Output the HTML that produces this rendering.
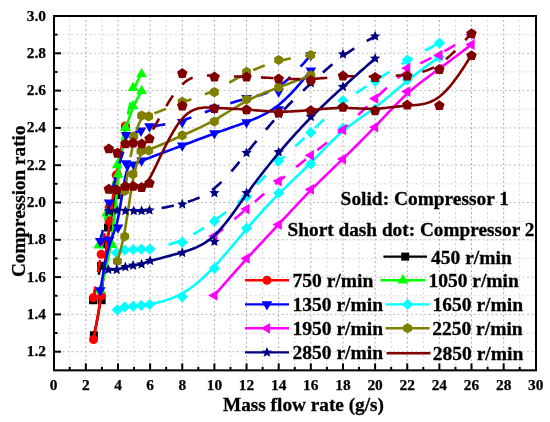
<!DOCTYPE html>
<html><head><meta charset="utf-8"><title>Compression ratio vs mass flow rate</title>
<style>html,body{margin:0;padding:0;background:#fff}svg{display:block}</style></head>
<body><svg width="550" height="422" viewBox="0 0 550 422">
<rect width="550" height="422" fill="#fff"/>
<g><line x1="69.77" y1="15.6" x2="69.77" y2="369.35" stroke="#d4d4d4" stroke-width="1" stroke-dasharray="2 2.465"/><line x1="85.84" y1="15.6" x2="85.84" y2="369.35" stroke="#a8a8a8" stroke-width="1" stroke-dasharray="2 2.465"/><line x1="101.91" y1="15.6" x2="101.91" y2="369.35" stroke="#d4d4d4" stroke-width="1" stroke-dasharray="2 2.465"/><line x1="117.98" y1="15.6" x2="117.98" y2="369.35" stroke="#a8a8a8" stroke-width="1" stroke-dasharray="2 2.465"/><line x1="134.05" y1="15.6" x2="134.05" y2="369.35" stroke="#d4d4d4" stroke-width="1" stroke-dasharray="2 2.465"/><line x1="150.12" y1="15.6" x2="150.12" y2="369.35" stroke="#a8a8a8" stroke-width="1" stroke-dasharray="2 2.465"/><line x1="166.19" y1="15.6" x2="166.19" y2="369.35" stroke="#d4d4d4" stroke-width="1" stroke-dasharray="2 2.465"/><line x1="182.26" y1="15.6" x2="182.26" y2="369.35" stroke="#a8a8a8" stroke-width="1" stroke-dasharray="2 2.465"/><line x1="198.33" y1="15.6" x2="198.33" y2="369.35" stroke="#d4d4d4" stroke-width="1" stroke-dasharray="2 2.465"/><line x1="214.40" y1="15.6" x2="214.40" y2="369.35" stroke="#a8a8a8" stroke-width="1" stroke-dasharray="2 2.465"/><line x1="230.47" y1="15.6" x2="230.47" y2="369.35" stroke="#d4d4d4" stroke-width="1" stroke-dasharray="2 2.465"/><line x1="246.54" y1="15.6" x2="246.54" y2="369.35" stroke="#a8a8a8" stroke-width="1" stroke-dasharray="2 2.465"/><line x1="262.61" y1="15.6" x2="262.61" y2="369.35" stroke="#d4d4d4" stroke-width="1" stroke-dasharray="2 2.465"/><line x1="278.68" y1="15.6" x2="278.68" y2="369.35" stroke="#a8a8a8" stroke-width="1" stroke-dasharray="2 2.465"/><line x1="294.75" y1="15.6" x2="294.75" y2="369.35" stroke="#d4d4d4" stroke-width="1" stroke-dasharray="2 2.465"/><line x1="310.82" y1="15.6" x2="310.82" y2="369.35" stroke="#a8a8a8" stroke-width="1" stroke-dasharray="2 2.465"/><line x1="326.89" y1="15.6" x2="326.89" y2="369.35" stroke="#d4d4d4" stroke-width="1" stroke-dasharray="2 2.465"/><line x1="342.96" y1="15.6" x2="342.96" y2="369.35" stroke="#a8a8a8" stroke-width="1" stroke-dasharray="2 2.465"/><line x1="359.03" y1="15.6" x2="359.03" y2="369.35" stroke="#d4d4d4" stroke-width="1" stroke-dasharray="2 2.465"/><line x1="375.10" y1="15.6" x2="375.10" y2="369.35" stroke="#a8a8a8" stroke-width="1" stroke-dasharray="2 2.465"/><line x1="391.17" y1="15.6" x2="391.17" y2="369.35" stroke="#d4d4d4" stroke-width="1" stroke-dasharray="2 2.465"/><line x1="407.24" y1="15.6" x2="407.24" y2="369.35" stroke="#a8a8a8" stroke-width="1" stroke-dasharray="2 2.465"/><line x1="423.31" y1="15.6" x2="423.31" y2="369.35" stroke="#d4d4d4" stroke-width="1" stroke-dasharray="2 2.465"/><line x1="439.38" y1="15.6" x2="439.38" y2="369.35" stroke="#a8a8a8" stroke-width="1" stroke-dasharray="2 2.465"/><line x1="455.45" y1="15.6" x2="455.45" y2="369.35" stroke="#d4d4d4" stroke-width="1" stroke-dasharray="2 2.465"/><line x1="471.52" y1="15.6" x2="471.52" y2="369.35" stroke="#a8a8a8" stroke-width="1" stroke-dasharray="2 2.465"/><line x1="487.59" y1="15.6" x2="487.59" y2="369.35" stroke="#d4d4d4" stroke-width="1" stroke-dasharray="2 2.465"/><line x1="503.66" y1="15.6" x2="503.66" y2="369.35" stroke="#a8a8a8" stroke-width="1" stroke-dasharray="2 2.465"/><line x1="519.73" y1="15.6" x2="519.73" y2="369.35" stroke="#d4d4d4" stroke-width="1" stroke-dasharray="2 2.465"/><line x1="53.7" y1="351.70" x2="535.0" y2="351.70" stroke="#bcbcbc" stroke-width="1" stroke-dasharray="2 2.465"/><line x1="53.7" y1="333.05" x2="535.0" y2="333.05" stroke="#d8d8d8" stroke-width="1" stroke-dasharray="2 2.465"/><line x1="53.7" y1="314.40" x2="535.0" y2="314.40" stroke="#bcbcbc" stroke-width="1" stroke-dasharray="2 2.465"/><line x1="53.7" y1="295.75" x2="535.0" y2="295.75" stroke="#d8d8d8" stroke-width="1" stroke-dasharray="2 2.465"/><line x1="53.7" y1="277.10" x2="535.0" y2="277.10" stroke="#bcbcbc" stroke-width="1" stroke-dasharray="2 2.465"/><line x1="53.7" y1="258.45" x2="535.0" y2="258.45" stroke="#d8d8d8" stroke-width="1" stroke-dasharray="2 2.465"/><line x1="53.7" y1="239.80" x2="535.0" y2="239.80" stroke="#bcbcbc" stroke-width="1" stroke-dasharray="2 2.465"/><line x1="53.7" y1="221.15" x2="535.0" y2="221.15" stroke="#d8d8d8" stroke-width="1" stroke-dasharray="2 2.465"/><line x1="53.7" y1="202.50" x2="535.0" y2="202.50" stroke="#bcbcbc" stroke-width="1" stroke-dasharray="2 2.465"/><line x1="53.7" y1="183.85" x2="535.0" y2="183.85" stroke="#d8d8d8" stroke-width="1" stroke-dasharray="2 2.465"/><line x1="53.7" y1="165.20" x2="535.0" y2="165.20" stroke="#bcbcbc" stroke-width="1" stroke-dasharray="2 2.465"/><line x1="53.7" y1="146.55" x2="535.0" y2="146.55" stroke="#d8d8d8" stroke-width="1" stroke-dasharray="2 2.465"/><line x1="53.7" y1="127.90" x2="535.0" y2="127.90" stroke="#bcbcbc" stroke-width="1" stroke-dasharray="2 2.465"/><line x1="53.7" y1="109.25" x2="535.0" y2="109.25" stroke="#d8d8d8" stroke-width="1" stroke-dasharray="2 2.465"/><line x1="53.7" y1="90.60" x2="535.0" y2="90.60" stroke="#bcbcbc" stroke-width="1" stroke-dasharray="2 2.465"/><line x1="53.7" y1="71.95" x2="535.0" y2="71.95" stroke="#d8d8d8" stroke-width="1" stroke-dasharray="2 2.465"/><line x1="53.7" y1="53.30" x2="535.0" y2="53.30" stroke="#bcbcbc" stroke-width="1" stroke-dasharray="2 2.465"/><line x1="53.7" y1="34.65" x2="535.0" y2="34.65" stroke="#d8d8d8" stroke-width="1" stroke-dasharray="2 2.465"/></g>
<g><path d="M93.87,335.29 L93.88,335.29 L93.88,335.28 L93.88,335.25 L93.90,335.20 L93.91,335.11 L93.94,334.98 L93.98,334.80 L94.04,334.56 L94.10,334.25 L94.19,333.86 L94.29,333.39 L94.42,332.82 L94.56,332.15 L94.74,331.37 L94.93,330.47 L95.16,329.44 L95.42,328.28 L95.70,326.98 L96.01,325.54 L96.34,323.96 L96.70,322.24 L97.07,320.38 L97.46,318.38 L97.87,316.24 L98.28,313.96 L98.71,311.53 L99.15,308.96 L99.59,306.25 L100.04,303.39 L100.48,300.39 L100.93,297.24 L101.37,293.95 L101.81,290.51 L102.25,286.94 L102.68,283.26 L103.11,279.50 L103.54,275.66 L103.96,271.77 L104.39,267.85 L104.82,263.91 L105.24,259.98 L105.67,256.07 L106.11,252.21 L106.54,248.41 L106.98,244.69 L107.43,241.07 L107.88,237.57 L108.34,234.20 L108.80,231.00 L109.27,227.94 L109.75,225.04 L110.22,222.30 L110.69,219.70 L111.16,217.25 L111.61,214.94 L112.06,212.78 L112.50,210.76 L112.92,208.88 L113.32,207.14 L113.70,205.54 L114.06,204.07 L114.40,202.73 L114.70,201.53 L114.98,200.45 L115.23,199.50 L115.44,198.66 L115.63,197.94 L115.79,197.32 L115.92,196.80 L116.03,196.36 L116.13,196.00 L116.20,195.72 L116.26,195.49 L116.30,195.33 L116.33,195.21 L116.35,195.12 L116.36,195.08 L116.37,195.05 L116.37,195.04 L116.37,195.04" fill="none" stroke="#000000" stroke-width="2.6" stroke-linejoin="round"/><rect x="89.88" y="331.29" width="8.00" height="8.00" fill="#000000" stroke="none"/><rect x="97.59" y="296.23" width="8.00" height="8.00" fill="#000000" stroke="none"/><rect x="104.02" y="223.49" width="8.00" height="8.00" fill="#000000" stroke="none"/><rect x="112.37" y="191.04" width="8.00" height="8.00" fill="#000000" stroke="none"/><path d="M93.07,300.23 L93.07,300.22 L93.07,300.21 L93.08,300.19 L93.09,300.14 L93.11,300.05 L93.14,299.92 L93.18,299.75 L93.24,299.51 L93.31,299.21 L93.40,298.83 L93.51,298.37 L93.64,297.81 L93.79,297.16 L93.97,296.39 L94.17,295.51 L94.41,294.51 L94.68,293.37 L94.97,292.10 L95.30,290.70 L95.65,289.18 L96.02,287.54 L96.41,285.79 L96.83,283.92 L97.26,281.94 L97.70,279.86 L98.16,277.67 L98.64,275.39 L99.12,273.01 L99.61,270.54 L100.10,267.98 L100.60,265.34 L101.11,262.62 L101.61,259.82 L102.11,256.95 L102.61,254.04 L103.11,251.10 L103.61,248.13 L104.11,245.15 L104.61,242.18 L105.11,239.23 L105.60,236.32 L106.10,233.45 L106.59,230.65 L107.08,227.92 L107.56,225.28 L108.05,222.74 L108.53,220.33 L109.01,218.04 L109.48,215.90 L109.95,213.90 L110.42,212.03 L110.87,210.30 L111.32,208.69 L111.76,207.20 L112.18,205.82 L112.59,204.56 L112.98,203.40 L113.36,202.35 L113.72,201.38 L114.05,200.51 L114.37,199.73 L114.66,199.02 L114.93,198.40 L115.17,197.84 L115.38,197.35 L115.57,196.91 L115.73,196.54 L115.86,196.22 L115.98,195.95 L116.08,195.72 L116.16,195.54 L116.22,195.39 L116.27,195.27 L116.31,195.19 L116.34,195.13 L116.35,195.08 L116.37,195.06 L116.37,195.05 L116.37,195.04 L116.37,195.04" fill="none" stroke="#000000" stroke-width="2.6" stroke-linejoin="round" stroke-dasharray="12.5 14.5" stroke-dashoffset="1.0"/><rect x="89.07" y="296.23" width="8.00" height="8.00" fill="#000000" stroke="none"/><rect x="97.11" y="261.91" width="8.00" height="8.00" fill="#000000" stroke="none"/><rect x="105.14" y="207.83" width="8.00" height="8.00" fill="#000000" stroke="none"/><rect x="112.37" y="191.04" width="8.00" height="8.00" fill="#000000" stroke="none"/><path d="M93.55,339.58 L93.55,339.58 L93.56,339.56 L93.56,339.53 L93.57,339.46 L93.59,339.35 L93.62,339.19 L93.67,338.97 L93.72,338.66 L93.79,338.28 L93.88,337.79 L93.99,337.20 L94.12,336.50 L94.27,335.66 L94.45,334.68 L94.66,333.56 L94.89,332.27 L95.16,330.82 L95.45,329.20 L95.78,327.41 L96.13,325.46 L96.50,323.35 L96.89,321.09 L97.30,318.67 L97.73,316.11 L98.17,313.40 L98.63,310.55 L99.09,307.56 L99.57,304.43 L100.05,301.17 L100.53,297.78 L101.02,294.26 L101.51,290.62 L101.99,286.86 L102.48,283.00 L102.96,279.04 L103.44,275.01 L103.92,270.92 L104.40,266.78 L104.87,262.60 L105.34,258.41 L105.82,254.21 L106.29,250.02 L106.75,245.86 L107.22,241.74 L107.68,237.67 L108.14,233.67 L108.60,229.76 L109.06,225.94 L109.52,222.23 L109.97,218.62 L110.43,215.11 L110.88,211.69 L111.34,208.35 L111.79,205.08 L112.25,201.88 L112.71,198.74 L113.17,195.64 L113.64,192.59 L114.11,189.57 L114.59,186.58 L115.07,183.60 L115.56,180.64 L116.06,177.68 L116.56,174.71 L117.07,171.73 L117.59,168.76 L118.11,165.79 L118.63,162.85 L119.14,159.95 L119.65,157.10 L120.15,154.32 L120.64,151.61 L121.12,148.99 L121.58,146.47 L122.02,144.07 L122.44,141.80 L122.84,139.66 L123.21,137.69 L123.54,135.87 L123.85,134.24 L124.11,132.80 L124.35,131.53 L124.55,130.44 L124.73,129.50 L124.88,128.70 L125.00,128.04 L125.10,127.50 L125.18,127.06 L125.24,126.72 L125.29,126.47 L125.33,126.29 L125.35,126.16 L125.36,126.09 L125.37,126.05 L125.37,126.04 L125.37,126.03" fill="none" stroke="#ff0000" stroke-width="2.6" stroke-linejoin="round"/><circle cx="93.55" cy="339.58" r="4.50" fill="#ff0000" stroke="none"/><circle cx="101.59" cy="295.75" r="4.50" fill="#ff0000" stroke="none"/><circle cx="109.14" cy="221.15" r="4.50" fill="#ff0000" stroke="none"/><circle cx="116.21" cy="175.27" r="4.50" fill="#ff0000" stroke="none"/><circle cx="125.37" cy="126.03" r="4.50" fill="#ff0000" stroke="none"/><path d="M93.23,297.80 L93.23,297.80 L93.23,297.79 L93.24,297.75 L93.25,297.69 L93.27,297.58 L93.30,297.42 L93.34,297.20 L93.40,296.90 L93.47,296.51 L93.55,296.03 L93.66,295.45 L93.79,294.75 L93.94,293.92 L94.11,292.95 L94.31,291.83 L94.54,290.56 L94.81,289.12 L95.10,287.52 L95.41,285.77 L95.75,283.87 L96.12,281.85 L96.51,279.71 L96.91,277.45 L97.34,275.10 L97.78,272.65 L98.23,270.12 L98.69,267.51 L99.17,264.85 L99.65,262.13 L100.14,259.37 L100.64,256.57 L101.13,253.76 L101.63,250.92 L102.13,248.08 L102.63,245.23 L103.13,242.39 L103.63,239.54 L104.13,236.70 L104.63,233.88 L105.13,231.07 L105.63,228.28 L106.13,225.52 L106.63,222.79 L107.13,220.09 L107.64,217.42 L108.14,214.81 L108.64,212.23 L109.14,209.71 L109.64,207.24 L110.15,204.82 L110.65,202.44 L111.15,200.10 L111.65,197.78 L112.16,195.48 L112.66,193.20 L113.16,190.91 L113.67,188.63 L114.17,186.34 L114.67,184.03 L115.18,181.69 L115.68,179.33 L116.19,176.93 L116.70,174.48 L117.20,171.98 L117.71,169.42 L118.22,166.82 L118.72,164.19 L119.22,161.55 L119.70,158.90 L120.18,156.28 L120.65,153.69 L121.11,151.15 L121.55,148.67 L121.97,146.28 L122.37,143.97 L122.75,141.78 L123.10,139.71 L123.43,137.79 L123.73,136.02 L124.01,134.43 L124.25,133.02 L124.46,131.78 L124.64,130.71 L124.80,129.79 L124.93,129.01 L125.04,128.37 L125.13,127.84 L125.20,127.41 L125.26,127.08 L125.30,126.83 L125.33,126.65 L125.35,126.53 L125.36,126.46 L125.37,126.42 L125.37,126.41 L125.37,126.41" fill="none" stroke="#ff0000" stroke-width="2.6" stroke-linejoin="round" stroke-dasharray="12.5 14.5" stroke-dashoffset="1.0"/><circle cx="93.23" cy="297.80" r="4.50" fill="#ff0000" stroke="none"/><circle cx="101.11" cy="254.35" r="4.50" fill="#ff0000" stroke="none"/><circle cx="109.14" cy="207.35" r="4.50" fill="#ff0000" stroke="none"/><circle cx="117.18" cy="174.53" r="4.50" fill="#ff0000" stroke="none"/><circle cx="125.37" cy="126.41" r="4.50" fill="#ff0000" stroke="none"/><path d="M100.30,290.16 L100.30,290.15 L100.31,290.14 L100.32,290.11 L100.33,290.04 L100.36,289.93 L100.41,289.76 L100.47,289.53 L100.55,289.21 L100.66,288.82 L100.79,288.32 L100.96,287.71 L101.15,286.98 L101.38,286.12 L101.65,285.12 L101.96,283.96 L102.31,282.63 L102.71,281.14 L103.15,279.47 L103.63,277.63 L104.15,275.63 L104.69,273.48 L105.26,271.17 L105.84,268.72 L106.45,266.12 L107.06,263.39 L107.68,260.52 L108.30,257.52 L108.92,254.40 L109.53,251.17 L110.14,247.82 L110.72,244.36 L111.28,240.79 L111.82,237.13 L112.34,233.39 L112.84,229.56 L113.31,225.68 L113.77,221.74 L114.22,217.76 L114.65,213.76 L115.07,209.74 L115.48,205.72 L115.89,201.71 L116.29,197.72 L116.68,193.76 L117.08,189.85 L117.47,185.99 L117.87,182.21 L118.27,178.50 L118.68,174.89 L119.10,171.37 L119.52,167.94 L119.95,164.61 L120.39,161.37 L120.83,158.23 L121.27,155.18 L121.72,152.23 L122.17,149.37 L122.63,146.61 L123.09,143.95 L123.55,141.38 L124.02,138.90 L124.48,136.53 L124.95,134.25 L125.43,132.07 L125.90,129.98 L126.37,127.99 L126.85,126.08 L127.33,124.27 L127.80,122.53 L128.28,120.86 L128.77,119.26 L129.25,117.74 L129.74,116.27 L130.23,114.86 L130.72,113.50 L131.21,112.19 L131.71,110.92 L132.21,109.69 L132.71,108.49 L133.22,107.32 L133.73,106.18 L134.24,105.07 L134.75,103.98 L135.25,102.93 L135.75,101.91 L136.24,100.92 L136.72,99.98 L137.18,99.07 L137.64,98.21 L138.07,97.39 L138.48,96.61 L138.88,95.89 L139.25,95.21 L139.59,94.59 L139.90,94.03 L140.18,93.52 L140.43,93.07 L140.65,92.68 L140.84,92.34 L141.00,92.05 L141.14,91.80 L141.26,91.60 L141.35,91.43 L141.43,91.29 L141.48,91.19 L141.53,91.11 L141.56,91.05 L141.58,91.01 L141.59,90.99 L141.60,90.98 L141.60,90.97 L141.60,90.97" fill="none" stroke="#00ff00" stroke-width="2.6" stroke-linejoin="round"/><polygon points="100.30,283.96 105.67,293.26 94.93,293.26" fill="#00ff00" stroke="none"/><polygon points="112.36,238.82 117.72,248.12 106.99,248.12" fill="#00ff00" stroke="none"/><polygon points="117.98,168.33 123.35,177.63 112.61,177.63" fill="#00ff00" stroke="none"/><polygon points="125.37,121.70 130.74,131.00 120.00,131.00" fill="#00ff00" stroke="none"/><polygon points="133.09,100.07 138.46,109.37 127.72,109.37" fill="#00ff00" stroke="none"/><polygon points="141.60,84.77 146.97,94.07 136.23,94.07" fill="#00ff00" stroke="none"/><path d="M98.70,245.40 L98.70,245.39 L98.70,245.38 L98.70,245.36 L98.72,245.31 L98.74,245.23 L98.77,245.11 L98.81,244.95 L98.86,244.73 L98.93,244.44 L99.02,244.09 L99.13,243.66 L99.26,243.14 L99.41,242.53 L99.59,241.81 L99.80,240.99 L100.04,240.05 L100.30,238.98 L100.60,237.80 L100.92,236.50 L101.28,235.08 L101.65,233.55 L102.06,231.92 L102.48,230.19 L102.93,228.35 L103.40,226.43 L103.89,224.41 L104.39,222.31 L104.91,220.13 L105.45,217.86 L106.00,215.53 L106.56,213.12 L107.13,210.64 L107.71,208.11 L108.31,205.52 L108.90,202.87 L109.51,200.19 L110.11,197.47 L110.73,194.72 L111.34,191.94 L111.96,189.15 L112.57,186.35 L113.19,183.54 L113.80,180.74 L114.41,177.95 L115.02,175.17 L115.62,172.42 L116.21,169.69 L116.80,167.00 L117.38,164.35 L117.95,161.74 L118.51,159.17 L119.07,156.63 L119.61,154.12 L120.15,151.63 L120.69,149.16 L121.22,146.72 L121.74,144.29 L122.26,141.87 L122.77,139.46 L123.28,137.06 L123.79,134.66 L124.29,132.25 L124.79,129.85 L125.29,127.43 L125.79,125.01 L126.28,122.58 L126.78,120.16 L127.27,117.75 L127.76,115.35 L128.25,112.98 L128.74,110.64 L129.24,108.34 L129.73,106.09 L130.22,103.89 L130.72,101.75 L131.21,99.68 L131.71,97.69 L132.21,95.77 L132.71,93.95 L133.22,92.22 L133.73,90.59 L134.24,89.06 L134.75,87.63 L135.25,86.30 L135.75,85.05 L136.24,83.89 L136.72,82.82 L137.18,81.83 L137.64,80.92 L138.07,80.08 L138.48,79.31 L138.88,78.62 L139.25,77.99 L139.59,77.42 L139.90,76.91 L140.18,76.46 L140.43,76.06 L140.65,75.71 L140.84,75.41 L141.00,75.15 L141.14,74.93 L141.26,74.74 L141.35,74.59 L141.43,74.47 L141.48,74.38 L141.53,74.31 L141.56,74.26 L141.58,74.22 L141.59,74.20 L141.60,74.19 L141.60,74.19 L141.60,74.19" fill="none" stroke="#00ff00" stroke-width="2.6" stroke-linejoin="round" stroke-dasharray="12.5 14.5" stroke-dashoffset="1.0"/><polygon points="98.70,239.20 104.07,248.50 93.33,248.50" fill="#00ff00" stroke="none"/><polygon points="106.73,207.12 112.10,216.42 101.36,216.42" fill="#00ff00" stroke="none"/><polygon points="117.18,159.00 122.55,168.30 111.81,168.30" fill="#00ff00" stroke="none"/><polygon points="125.37,121.70 130.74,131.00 120.00,131.00" fill="#00ff00" stroke="none"/><polygon points="133.09,81.60 138.46,90.90 127.72,90.90" fill="#00ff00" stroke="none"/><polygon points="141.60,67.99 146.97,77.29 136.23,77.29" fill="#00ff00" stroke="none"/><path d="M100.30,290.34 L100.30,290.34 L100.31,290.33 L100.31,290.29 L100.33,290.21 L100.35,290.08 L100.38,289.90 L100.43,289.64 L100.49,289.29 L100.57,288.84 L100.66,288.28 L100.78,287.60 L100.92,286.79 L101.09,285.82 L101.29,284.70 L101.52,283.40 L101.78,281.92 L102.07,280.24 L102.39,278.39 L102.75,276.39 L103.13,274.25 L103.54,272.00 L103.98,269.67 L104.43,267.26 L104.91,264.81 L105.40,262.34 L105.90,259.86 L106.42,257.41 L106.95,254.99 L107.49,252.64 L108.04,250.37 L108.59,248.21 L109.14,246.17 L109.69,244.28 L110.25,242.51 L110.80,240.85 L111.35,239.28 L111.90,237.76 L112.45,236.28 L113.00,234.83 L113.54,233.36 L114.09,231.87 L114.63,230.33 L115.17,228.72 L115.71,227.02 L116.25,225.21 L116.79,223.25 L117.32,221.14 L117.85,218.85 L118.37,216.36 L118.89,213.70 L119.41,210.90 L119.93,207.98 L120.45,204.97 L120.96,201.90 L121.47,198.80 L121.97,195.70 L122.48,192.62 L122.98,189.60 L123.48,186.67 L123.98,183.84 L124.48,181.16 L124.97,178.65 L125.47,176.33 L125.96,174.25 L126.45,172.41 L126.94,170.81 L127.43,169.43 L127.92,168.25 L128.41,167.26 L128.90,166.44 L129.38,165.77 L129.87,165.24 L130.35,164.82 L130.84,164.51 L131.33,164.27 L131.81,164.10 L132.30,163.98 L132.78,163.89 L133.27,163.82 L133.76,163.74 L134.24,163.64 L134.74,163.52 L135.26,163.38 L135.79,163.21 L136.36,163.01 L136.98,162.79 L137.64,162.53 L138.35,162.25 L139.13,161.94 L139.99,161.59 L140.92,161.21 L141.94,160.79 L143.06,160.33 L144.28,159.84 L145.61,159.31 L147.07,158.73 L148.65,158.12 L150.34,157.47 L152.15,156.78 L154.05,156.05 L156.04,155.30 L158.11,154.53 L160.24,153.73 L162.44,152.91 L164.68,152.07 L166.96,151.22 L169.26,150.37 L171.58,149.50 L173.91,148.64 L176.24,147.77 L178.55,146.91 L180.84,146.05 L183.10,145.21 L185.33,144.37 L187.52,143.54 L189.70,142.73 L191.84,141.92 L193.97,141.12 L196.07,140.33 L198.15,139.54 L200.22,138.77 L202.27,138.00 L204.31,137.24 L206.34,136.48 L208.36,135.74 L210.38,134.99 L212.39,134.26 L214.40,133.53 L216.41,132.80 L218.42,132.08 L220.43,131.36 L222.44,130.64 L224.44,129.93 L226.45,129.22 L228.46,128.50 L230.47,127.79 L232.48,127.08 L234.49,126.36 L236.50,125.64 L238.50,124.92 L240.51,124.19 L242.52,123.45 L244.53,122.71 L246.54,121.96 L248.55,121.21 L250.56,120.44 L252.57,119.65 L254.57,118.83 L256.58,117.98 L258.59,117.10 L260.60,116.18 L262.61,115.20 L264.62,114.18 L266.63,113.09 L268.64,111.94 L270.64,110.71 L272.65,109.41 L274.66,108.03 L276.67,106.56 L278.68,104.99 L280.69,103.33 L282.69,101.58 L284.67,99.77 L286.63,97.90 L288.56,96.00 L290.45,94.07 L292.29,92.14 L294.08,90.22 L295.81,88.32 L297.46,86.47 L299.04,84.67 L300.53,82.94 L301.92,81.31 L303.21,79.77 L304.40,78.36 L305.46,77.08 L306.41,75.95 L307.23,74.95 L307.95,74.10 L308.56,73.36 L309.08,72.74 L309.51,72.22 L309.87,71.79 L310.15,71.45 L310.37,71.18 L310.54,70.98 L310.66,70.84 L310.74,70.75 L310.78,70.69 L310.81,70.66 L310.82,70.65 L310.82,70.64" fill="none" stroke="#0000ff" stroke-width="2.6" stroke-linejoin="round"/><polygon points="100.30,296.54 105.67,287.24 94.93,287.24" fill="#0000ff" stroke="none"/><polygon points="109.14,246.00 114.51,236.70 103.77,236.70" fill="#0000ff" stroke="none"/><polygon points="117.98,233.69 123.35,224.39 112.61,224.39" fill="#0000ff" stroke="none"/><polygon points="126.02,169.54 131.38,160.24 120.65,160.24" fill="#0000ff" stroke="none"/><polygon points="133.73,170.84 139.10,161.54 128.36,161.54" fill="#0000ff" stroke="none"/><polygon points="141.60,166.74 146.97,157.44 136.23,157.44" fill="#0000ff" stroke="none"/><polygon points="182.26,151.82 187.63,142.52 176.89,142.52" fill="#0000ff" stroke="none"/><polygon points="214.40,139.51 219.77,130.21 209.03,130.21" fill="#0000ff" stroke="none"/><polygon points="246.54,128.50 251.91,119.20 241.17,119.20" fill="#0000ff" stroke="none"/><polygon points="278.68,115.45 284.05,106.15 273.31,106.15" fill="#0000ff" stroke="none"/><polygon points="310.82,76.84 316.19,67.54 305.45,67.54" fill="#0000ff" stroke="none"/><path d="M100.30,241.11 L100.30,241.10 L100.31,241.09 L100.31,241.06 L100.33,241.01 L100.35,240.91 L100.38,240.77 L100.43,240.57 L100.49,240.31 L100.57,239.97 L100.66,239.54 L100.78,239.02 L100.92,238.40 L101.09,237.67 L101.29,236.82 L101.52,235.83 L101.78,234.70 L102.07,233.43 L102.40,232.00 L102.76,230.44 L103.16,228.72 L103.58,226.87 L104.05,224.88 L104.54,222.75 L105.07,220.49 L105.64,218.09 L106.23,215.56 L106.86,212.91 L107.52,210.13 L108.21,207.23 L108.94,204.21 L109.69,201.07 L110.48,197.81 L111.30,194.44 L112.15,190.98 L113.02,187.44 L113.92,183.87 L114.84,180.27 L115.78,176.67 L116.74,173.08 L117.71,169.55 L118.69,166.08 L119.68,162.70 L120.68,159.43 L121.68,156.29 L122.69,153.32 L123.69,150.52 L124.70,147.93 L125.69,145.56 L126.68,143.43 L127.67,141.53 L128.64,139.85 L129.60,138.37 L130.55,137.08 L131.48,135.96 L132.41,134.99 L133.31,134.16 L134.20,133.46 L135.08,132.86 L135.93,132.36 L136.77,131.94 L137.58,131.57 L138.37,131.25 L139.14,130.97 L139.89,130.70 L140.61,130.43 L141.31,130.16 L142.01,129.89 L142.70,129.63 L143.40,129.36 L144.11,129.09 L144.83,128.82 L145.59,128.55 L146.38,128.28 L147.21,128.02 L148.10,127.75 L149.04,127.48 L150.04,127.21 L151.12,126.94 L152.28,126.68 L153.52,126.41 L154.86,126.14 L156.28,125.87 L157.79,125.59 L159.38,125.31 L161.03,125.02 L162.75,124.71 L164.53,124.39 L166.36,124.06 L168.24,123.70 L170.15,123.32 L172.10,122.92 L174.08,122.50 L176.08,122.04 L178.10,121.55 L180.12,121.03 L182.15,120.47 L184.18,119.88 L186.21,119.24 L188.23,118.58 L190.25,117.89 L192.27,117.18 L194.29,116.44 L196.30,115.68 L198.32,114.91 L200.33,114.13 L202.34,113.35 L204.35,112.56 L206.36,111.76 L208.37,110.97 L210.38,110.19 L212.39,109.42 L214.40,108.66 L216.41,107.92 L218.42,107.19 L220.43,106.48 L222.44,105.78 L224.44,105.10 L226.45,104.44 L228.46,103.79 L230.47,103.16 L232.48,102.54 L234.49,101.94 L236.50,101.35 L238.50,100.78 L240.51,100.22 L242.52,99.67 L244.53,99.14 L246.54,98.62 L248.55,98.11 L250.56,97.61 L252.57,97.10 L254.57,96.59 L256.58,96.05 L258.59,95.49 L260.60,94.89 L262.61,94.24 L264.62,93.55 L266.63,92.80 L268.64,91.97 L270.64,91.07 L272.65,90.09 L274.66,89.02 L276.67,87.84 L278.68,86.56 L280.69,85.16 L282.69,83.67 L284.67,82.09 L286.63,80.44 L288.56,78.74 L290.45,77.00 L292.29,75.24 L294.08,73.48 L295.81,71.74 L297.46,70.02 L299.04,68.35 L300.53,66.74 L301.92,65.20 L303.21,63.76 L304.40,62.43 L305.46,61.23 L306.41,60.16 L307.23,59.23 L307.95,58.42 L308.56,57.72 L309.08,57.13 L309.51,56.64 L309.87,56.24 L310.15,55.92 L310.37,55.67 L310.54,55.48 L310.66,55.35 L310.74,55.26 L310.78,55.20 L310.81,55.18 L310.82,55.17 L310.82,55.17" fill="none" stroke="#0000ff" stroke-width="2.6" stroke-linejoin="round" stroke-dasharray="12.5 14.5" stroke-dashoffset="1.0"/><polygon points="100.30,247.31 105.67,238.01 94.93,238.01" fill="#0000ff" stroke="none"/><polygon points="109.14,208.89 114.51,199.59 103.77,199.59" fill="#0000ff" stroke="none"/><polygon points="126.02,141.19 131.38,131.89 120.65,131.89" fill="#0000ff" stroke="none"/><polygon points="140.96,136.90 146.33,127.60 135.59,127.60" fill="#0000ff" stroke="none"/><polygon points="149.48,132.61 154.85,123.31 144.11,123.31" fill="#0000ff" stroke="none"/><polygon points="182.26,128.32 187.63,119.02 176.89,119.02" fill="#0000ff" stroke="none"/><polygon points="214.40,114.14 219.77,104.84 209.03,104.84" fill="#0000ff" stroke="none"/><polygon points="246.54,104.26 251.91,94.96 241.17,94.96" fill="#0000ff" stroke="none"/><polygon points="278.68,97.73 284.05,88.43 273.31,88.43" fill="#0000ff" stroke="none"/><polygon points="310.82,61.37 316.19,52.07 305.45,52.07" fill="#0000ff" stroke="none"/><path d="M117.34,309.92 L117.34,309.92 L117.34,309.92 L117.35,309.92 L117.36,309.92 L117.37,309.91 L117.40,309.90 L117.44,309.88 L117.49,309.86 L117.56,309.84 L117.64,309.80 L117.74,309.76 L117.86,309.71 L118.00,309.66 L118.16,309.59 L118.35,309.51 L118.57,309.43 L118.81,309.33 L119.09,309.22 L119.39,309.10 L119.71,308.97 L120.05,308.84 L120.42,308.70 L120.81,308.56 L121.21,308.42 L121.63,308.27 L122.07,308.12 L122.52,307.98 L122.98,307.84 L123.45,307.70 L123.93,307.56 L124.42,307.43 L124.92,307.31 L125.42,307.20 L125.92,307.10 L126.43,307.00 L126.94,306.91 L127.45,306.83 L127.96,306.75 L128.48,306.68 L129.00,306.61 L129.52,306.55 L130.04,306.49 L130.56,306.44 L131.09,306.39 L131.61,306.34 L132.13,306.29 L132.65,306.24 L133.17,306.19 L133.68,306.15 L134.20,306.10 L134.71,306.05 L135.22,306.01 L135.73,305.96 L136.24,305.91 L136.75,305.87 L137.26,305.82 L137.77,305.77 L138.28,305.72 L138.79,305.67 L139.29,305.62 L139.80,305.57 L140.31,305.52 L140.82,305.47 L141.34,305.42 L141.85,305.36 L142.37,305.31 L142.90,305.25 L143.46,305.18 L144.03,305.11 L144.64,305.03 L145.29,304.94 L145.97,304.84 L146.71,304.72 L147.49,304.59 L148.34,304.44 L149.26,304.28 L150.24,304.09 L151.30,303.88 L152.45,303.65 L153.68,303.40 L155.01,303.11 L156.42,302.80 L157.92,302.46 L159.50,302.08 L161.14,301.66 L162.85,301.19 L164.62,300.68 L166.44,300.12 L168.31,299.50 L170.22,298.83 L172.16,298.09 L174.13,297.29 L176.13,296.43 L178.14,295.49 L180.16,294.48 L182.18,293.39 L184.20,292.22 L186.22,290.97 L188.24,289.64 L190.26,288.24 L192.28,286.76 L194.29,285.22 L196.31,283.60 L198.32,281.93 L200.33,280.18 L202.34,278.38 L204.35,276.52 L206.36,274.60 L208.37,272.63 L210.38,270.60 L212.39,268.53 L214.40,266.41 L216.41,264.24 L218.42,262.03 L220.43,259.79 L222.44,257.51 L224.44,255.20 L226.45,252.87 L228.46,250.52 L230.47,248.15 L232.48,245.76 L234.49,243.37 L236.50,240.97 L238.50,238.57 L240.51,236.18 L242.52,233.79 L244.53,231.41 L246.54,229.05 L248.55,226.70 L250.56,224.37 L252.57,222.07 L254.57,219.78 L256.58,217.52 L258.59,215.27 L260.60,213.05 L262.61,210.84 L264.62,208.66 L266.63,206.50 L268.64,204.36 L270.64,202.25 L272.65,200.15 L274.66,198.08 L276.67,196.04 L278.68,194.01 L280.69,192.02 L282.70,190.04 L284.71,188.08 L286.72,186.13 L288.72,184.20 L290.73,182.27 L292.74,180.35 L294.75,178.43 L296.76,176.52 L298.77,174.59 L300.78,172.66 L302.78,170.73 L304.79,168.77 L306.80,166.80 L308.81,164.82 L310.82,162.81 L312.83,160.77 L314.84,158.72 L316.85,156.65 L318.86,154.57 L320.86,152.49 L322.87,150.42 L324.88,148.35 L326.89,146.29 L328.90,144.26 L330.91,142.25 L332.92,140.27 L334.93,138.33 L336.93,136.43 L338.94,134.58 L340.95,132.78 L342.96,131.04 L344.97,129.36 L346.98,127.75 L348.99,126.18 L351.00,124.66 L353.00,123.17 L355.01,121.72 L357.02,120.30 L359.03,118.89 L361.04,117.49 L363.05,116.10 L365.06,114.71 L367.06,113.31 L369.07,111.90 L371.08,110.47 L373.09,109.01 L375.10,107.51 L377.11,105.97 L379.12,104.40 L381.13,102.80 L383.13,101.17 L385.14,99.51 L387.15,97.83 L389.16,96.14 L391.17,94.44 L393.18,92.73 L395.19,91.01 L397.20,89.30 L399.20,87.59 L401.21,85.90 L403.22,84.21 L405.23,82.55 L407.24,80.90 L409.25,79.28 L411.25,77.70 L413.23,76.14 L415.19,74.63 L417.12,73.15 L419.01,71.72 L420.85,70.35 L422.64,69.02 L424.37,67.75 L426.02,66.55 L427.60,65.41 L429.09,64.34 L430.48,63.34 L431.77,62.42 L432.96,61.58 L434.02,60.82 L434.97,60.15 L435.79,59.57 L436.51,59.06 L437.12,58.63 L437.64,58.26 L438.07,57.96 L438.43,57.70 L438.71,57.50 L438.93,57.35 L439.10,57.23 L439.22,57.15 L439.30,57.09 L439.34,57.05 L439.37,57.04 L439.38,57.03 L439.38,57.03" fill="none" stroke="#00ffff" stroke-width="2.6" stroke-linejoin="round"/><polygon points="117.34,304.32 122.94,309.92 117.34,315.52 111.74,309.92" fill="#00ffff" stroke="none"/><polygon points="124.73,301.34 130.33,306.94 124.73,312.54 119.13,306.94" fill="#00ffff" stroke="none"/><polygon points="133.25,300.59 138.85,306.19 133.25,311.79 127.65,306.19" fill="#00ffff" stroke="none"/><polygon points="141.28,299.85 146.88,305.45 141.28,311.05 135.68,305.45" fill="#00ffff" stroke="none"/><polygon points="149.64,298.92 155.24,304.52 149.64,310.12 144.04,304.52" fill="#00ffff" stroke="none"/><polygon points="182.26,291.27 187.86,296.87 182.26,302.47 176.66,296.87" fill="#00ffff" stroke="none"/><polygon points="214.40,262.73 220.00,268.33 214.40,273.93 208.80,268.33" fill="#00ffff" stroke="none"/><polygon points="246.54,222.64 252.14,228.24 246.54,233.84 240.94,228.24" fill="#00ffff" stroke="none"/><polygon points="278.68,187.39 284.28,192.99 278.68,198.59 273.08,192.99" fill="#00ffff" stroke="none"/><polygon points="310.82,158.29 316.42,163.89 310.82,169.49 305.22,163.89" fill="#00ffff" stroke="none"/><polygon points="342.96,122.67 348.56,128.27 342.96,133.87 337.36,128.27" fill="#00ffff" stroke="none"/><polygon points="375.10,103.65 380.70,109.25 375.10,114.85 369.50,109.25" fill="#00ffff" stroke="none"/><polygon points="407.24,74.18 412.84,79.78 407.24,85.38 401.64,79.78" fill="#00ffff" stroke="none"/><polygon points="439.38,51.43 444.98,57.03 439.38,62.63 433.78,57.03" fill="#00ffff" stroke="none"/><path d="M116.37,252.85 L116.37,252.85 L116.38,252.85 L116.38,252.85 L116.39,252.85 L116.42,252.84 L116.45,252.83 L116.49,252.82 L116.55,252.80 L116.62,252.77 L116.71,252.74 L116.83,252.70 L116.96,252.66 L117.12,252.60 L117.31,252.54 L117.52,252.47 L117.77,252.39 L118.04,252.30 L118.35,252.19 L118.69,252.08 L119.05,251.96 L119.44,251.84 L119.85,251.71 L120.28,251.58 L120.73,251.44 L121.19,251.31 L121.67,251.17 L122.16,251.04 L122.66,250.91 L123.17,250.78 L123.69,250.66 L124.21,250.54 L124.73,250.43 L125.25,250.33 L125.77,250.24 L126.30,250.15 L126.82,250.08 L127.34,250.00 L127.86,249.94 L128.38,249.88 L128.90,249.83 L129.43,249.78 L129.95,249.74 L130.47,249.69 L130.99,249.66 L131.50,249.62 L132.02,249.59 L132.54,249.56 L133.06,249.53 L133.58,249.50 L134.09,249.47 L134.61,249.45 L135.12,249.42 L135.64,249.39 L136.16,249.37 L136.67,249.35 L137.19,249.32 L137.70,249.30 L138.22,249.28 L138.74,249.26 L139.25,249.24 L139.77,249.23 L140.29,249.21 L140.81,249.20 L141.34,249.19 L141.86,249.18 L142.39,249.16 L142.93,249.15 L143.50,249.13 L144.08,249.11 L144.70,249.08 L145.35,249.04 L146.05,248.99 L146.79,248.93 L147.58,248.85 L148.44,248.75 L149.35,248.64 L150.34,248.51 L151.41,248.35 L152.55,248.18 L153.79,247.97 L155.12,247.75 L156.53,247.49 L158.03,247.20 L159.60,246.88 L161.24,246.52 L162.94,246.13 L164.71,245.70 L166.52,245.24 L168.38,244.73 L170.28,244.17 L172.22,243.58 L174.18,242.94 L176.17,242.24 L178.17,241.50 L180.19,240.71 L182.21,239.86 L184.22,238.96 L186.24,238.01 L188.26,237.00 L190.27,235.95 L192.29,234.85 L194.30,233.71 L196.31,232.53 L198.32,231.32 L200.33,230.07 L202.34,228.78 L204.35,227.47 L206.36,226.13 L208.37,224.77 L210.38,223.38 L212.39,221.98 L214.40,220.56 L216.41,219.12 L218.42,217.67 L220.43,216.21 L222.44,214.72 L224.44,213.21 L226.45,211.68 L228.46,210.12 L230.47,208.54 L232.48,206.93 L234.49,205.28 L236.50,203.61 L238.50,201.90 L240.51,200.16 L242.52,198.38 L244.53,196.56 L246.54,194.70 L248.55,192.79 L250.56,190.85 L252.57,188.88 L254.57,186.87 L256.58,184.84 L258.59,182.79 L260.60,180.72 L262.61,178.64 L264.62,176.56 L266.63,174.47 L268.64,172.38 L270.64,170.30 L272.65,168.23 L274.66,166.17 L276.67,164.14 L278.68,162.12 L280.69,160.14 L282.70,158.18 L284.71,156.24 L286.72,154.33 L288.72,152.43 L290.73,150.54 L292.74,148.67 L294.75,146.81 L296.76,144.96 L298.77,143.11 L300.78,141.26 L302.78,139.41 L304.79,137.55 L306.80,135.69 L308.81,133.82 L310.82,131.94 L312.83,130.05 L314.84,128.14 L316.85,126.23 L318.86,124.31 L320.86,122.40 L322.87,120.49 L324.88,118.60 L326.89,116.71 L328.90,114.85 L330.91,113.00 L332.92,111.19 L334.93,109.40 L336.93,107.65 L338.94,105.93 L340.95,104.26 L342.96,102.63 L344.97,101.05 L346.98,99.52 L348.99,98.03 L351.00,96.58 L353.00,95.17 L355.01,93.79 L357.02,92.43 L359.03,91.11 L361.04,89.80 L363.05,88.51 L365.06,87.23 L367.06,85.97 L369.07,84.71 L371.08,83.45 L373.09,82.19 L375.10,80.93 L377.11,79.66 L379.12,78.39 L381.13,77.11 L383.13,75.83 L385.14,74.54 L387.15,73.26 L389.16,71.97 L391.17,70.69 L393.18,69.41 L395.19,68.14 L397.20,66.88 L399.20,65.63 L401.21,64.38 L403.22,63.15 L405.23,61.93 L407.24,60.73 L409.25,59.54 L411.25,58.38 L413.23,57.23 L415.19,56.12 L417.12,55.03 L419.01,53.97 L420.85,52.95 L422.64,51.97 L424.37,51.03 L426.02,50.14 L427.60,49.29 L429.09,48.49 L430.48,47.75 L431.77,47.06 L432.96,46.43 L434.02,45.87 L434.97,45.37 L435.79,44.94 L436.51,44.56 L437.12,44.24 L437.64,43.96 L438.07,43.73 L438.43,43.55 L438.71,43.40 L438.93,43.28 L439.10,43.19 L439.22,43.13 L439.30,43.09 L439.34,43.06 L439.37,43.05 L439.38,43.04 L439.38,43.04" fill="none" stroke="#00ffff" stroke-width="2.6" stroke-linejoin="round" stroke-dasharray="12.5 14.5" stroke-dashoffset="1.0"/><polygon points="116.37,247.26 121.97,252.86 116.37,258.46 110.77,252.86" fill="#00ffff" stroke="none"/><polygon points="124.73,244.46 130.33,250.06 124.73,255.66 119.13,250.06" fill="#00ffff" stroke="none"/><polygon points="133.09,243.90 138.69,249.50 133.09,255.10 127.49,249.50" fill="#00ffff" stroke="none"/><polygon points="141.28,243.53 146.88,249.13 141.28,254.73 135.68,249.13" fill="#00ffff" stroke="none"/><polygon points="149.80,243.53 155.40,249.13 149.80,254.73 144.20,249.13" fill="#00ffff" stroke="none"/><polygon points="182.26,236.62 187.86,242.22 182.26,247.82 176.66,242.22" fill="#00ffff" stroke="none"/><polygon points="214.40,215.55 220.00,221.15 214.40,226.75 208.80,221.15" fill="#00ffff" stroke="none"/><polygon points="246.54,190.93 252.14,196.53 246.54,202.13 240.94,196.53" fill="#00ffff" stroke="none"/><polygon points="278.68,155.31 284.28,160.91 278.68,166.51 273.08,160.91" fill="#00ffff" stroke="none"/><polygon points="310.82,126.96 316.42,132.56 310.82,138.16 305.22,132.56" fill="#00ffff" stroke="none"/><polygon points="342.96,94.88 348.56,100.48 342.96,106.08 337.36,100.48" fill="#00ffff" stroke="none"/><polygon points="375.10,75.68 380.70,81.28 375.10,86.88 369.50,81.28" fill="#00ffff" stroke="none"/><polygon points="407.24,54.41 412.84,60.01 407.24,65.61 401.64,60.01" fill="#00ffff" stroke="none"/><polygon points="439.38,37.44 444.98,43.04 439.38,48.64 433.78,43.04" fill="#00ffff" stroke="none"/><path d="M214.40,295.38 L214.40,295.38 L214.41,295.36 L214.44,295.34 L214.48,295.28 L214.56,295.19 L214.68,295.05 L214.85,294.86 L215.07,294.61 L215.35,294.28 L215.71,293.87 L216.14,293.38 L216.66,292.78 L217.27,292.08 L217.99,291.25 L218.81,290.31 L219.76,289.22 L220.82,288.00 L222.01,286.64 L223.30,285.16 L224.69,283.56 L226.18,281.85 L227.76,280.05 L229.41,278.17 L231.14,276.21 L232.93,274.18 L234.77,272.09 L236.66,269.96 L238.59,267.80 L240.55,265.60 L242.53,263.39 L244.53,261.17 L246.54,258.95 L248.55,256.74 L250.56,254.54 L252.57,252.35 L254.57,250.17 L256.58,248.00 L258.59,245.83 L260.60,243.67 L262.61,241.52 L264.62,239.37 L266.63,237.22 L268.64,235.07 L270.64,232.92 L272.65,230.77 L274.66,228.63 L276.67,226.47 L278.68,224.32 L280.69,222.16 L282.70,220.00 L284.71,217.84 L286.72,215.67 L288.72,213.51 L290.73,211.35 L292.74,209.20 L294.75,207.05 L296.76,204.91 L298.77,202.77 L300.78,200.65 L302.78,198.54 L304.79,196.43 L306.80,194.35 L308.81,192.28 L310.82,190.22 L312.83,188.19 L314.84,186.17 L316.85,184.16 L318.86,182.17 L320.86,180.19 L322.87,178.22 L324.88,176.26 L326.89,174.31 L328.90,172.37 L330.91,170.43 L332.92,168.49 L334.93,166.55 L336.93,164.62 L338.94,162.68 L340.95,160.74 L342.96,158.80 L344.97,156.85 L346.98,154.89 L348.99,152.93 L351.00,150.96 L353.00,148.98 L355.01,146.99 L357.02,145.00 L359.03,142.99 L361.04,140.98 L363.05,138.95 L365.06,136.91 L367.06,134.86 L369.07,132.80 L371.08,130.72 L373.09,128.63 L375.10,126.53 L377.11,124.42 L379.12,122.29 L381.13,120.16 L383.13,118.02 L385.14,115.89 L387.15,113.76 L389.16,111.64 L391.17,109.54 L393.18,107.45 L395.19,105.39 L397.20,103.35 L399.20,101.35 L401.21,99.37 L403.22,97.44 L405.23,95.55 L407.24,93.71 L409.25,91.91 L411.26,90.17 L413.27,88.47 L415.28,86.80 L417.28,85.18 L419.29,83.58 L421.30,82.02 L423.31,80.48 L425.32,78.97 L427.33,77.47 L429.34,75.98 L431.34,74.51 L433.35,73.04 L435.36,71.58 L437.37,70.12 L439.38,68.66 L441.39,67.18 L443.39,65.71 L445.37,64.25 L447.33,62.79 L449.26,61.35 L451.15,59.94 L452.99,58.56 L454.78,57.22 L456.51,55.92 L458.16,54.67 L459.74,53.48 L461.23,52.36 L462.62,51.30 L463.91,50.32 L465.10,49.42 L466.16,48.61 L467.11,47.89 L467.93,47.26 L468.65,46.72 L469.26,46.25 L469.78,45.86 L470.21,45.53 L470.57,45.26 L470.85,45.04 L471.07,44.88 L471.24,44.75 L471.36,44.66 L471.44,44.60 L471.48,44.56 L471.51,44.54 L471.52,44.54 L471.52,44.53" fill="none" stroke="#ff00ff" stroke-width="2.6" stroke-linejoin="round"/><polygon points="208.20,295.38 217.50,290.01 217.50,300.75" fill="#ff00ff" stroke="none"/><polygon points="240.34,258.45 249.64,253.08 249.64,263.82" fill="#ff00ff" stroke="none"/><polygon points="272.48,224.51 281.78,219.14 281.78,229.88" fill="#ff00ff" stroke="none"/><polygon points="304.62,189.45 313.92,184.08 313.92,194.81" fill="#ff00ff" stroke="none"/><polygon points="336.76,159.05 346.06,153.68 346.06,164.41" fill="#ff00ff" stroke="none"/><polygon points="368.90,127.15 378.20,121.78 378.20,132.52" fill="#ff00ff" stroke="none"/><polygon points="401.04,91.53 410.34,86.16 410.34,96.90" fill="#ff00ff" stroke="none"/><polygon points="433.18,68.97 442.48,63.60 442.48,74.34" fill="#ff00ff" stroke="none"/><polygon points="465.32,44.53 474.62,39.17 474.62,49.90" fill="#ff00ff" stroke="none"/><path d="M214.40,236.07 L214.40,236.07 L214.41,236.06 L214.44,236.04 L214.48,236.00 L214.56,235.93 L214.68,235.83 L214.85,235.69 L215.07,235.51 L215.35,235.27 L215.71,234.97 L216.14,234.61 L216.66,234.17 L217.27,233.65 L217.99,233.05 L218.81,232.36 L219.76,231.56 L220.82,230.67 L222.01,229.67 L223.30,228.58 L224.69,227.41 L226.18,226.15 L227.76,224.82 L229.41,223.42 L231.14,221.97 L232.93,220.45 L234.77,218.89 L236.66,217.29 L238.59,215.65 L240.55,213.98 L242.53,212.29 L244.53,210.59 L246.54,208.87 L248.55,207.15 L250.56,205.43 L252.57,203.70 L254.57,201.97 L256.58,200.25 L258.59,198.52 L260.60,196.79 L262.61,195.07 L264.62,193.34 L266.63,191.63 L268.64,189.91 L270.64,188.20 L272.65,186.50 L274.66,184.80 L276.67,183.11 L278.68,181.43 L280.69,179.75 L282.70,178.09 L284.71,176.43 L286.72,174.78 L288.72,173.13 L290.73,171.50 L292.74,169.86 L294.75,168.24 L296.76,166.62 L298.77,165.00 L300.78,163.39 L302.78,161.78 L304.79,160.18 L306.80,158.58 L308.81,156.98 L310.82,155.38 L312.83,153.78 L314.84,152.18 L316.85,150.59 L318.86,148.99 L320.86,147.38 L322.87,145.77 L324.88,144.15 L326.89,142.52 L328.90,140.88 L330.91,139.22 L332.92,137.56 L334.93,135.87 L336.93,134.17 L338.94,132.46 L340.95,130.72 L342.96,128.96 L344.97,127.17 L346.98,125.37 L348.99,123.54 L351.00,121.70 L353.00,119.84 L355.01,117.97 L357.02,116.08 L359.03,114.18 L361.04,112.27 L363.05,110.35 L365.06,108.43 L367.06,106.50 L369.07,104.57 L371.08,102.64 L373.09,100.71 L375.10,98.77 L377.11,96.85 L379.12,94.93 L381.13,93.02 L383.13,91.13 L385.14,89.26 L387.15,87.41 L389.16,85.59 L391.17,83.80 L393.18,82.05 L395.19,80.33 L397.20,78.66 L399.20,77.04 L401.21,75.47 L403.22,73.96 L405.23,72.50 L407.24,71.11 L409.25,69.79 L411.26,68.52 L413.27,67.31 L415.28,66.16 L417.28,65.04 L419.29,63.96 L421.30,62.92 L423.31,61.90 L425.32,60.90 L427.33,59.91 L429.34,58.93 L431.34,57.95 L433.35,56.96 L435.36,55.97 L437.37,54.96 L439.38,53.92 L441.39,52.86 L443.39,51.77 L445.37,50.67 L447.33,49.57 L449.26,48.45 L451.15,47.35 L452.99,46.25 L454.78,45.18 L456.51,44.13 L458.16,43.11 L459.74,42.13 L461.23,41.20 L462.62,40.32 L463.91,39.50 L465.10,38.75 L466.16,38.07 L467.11,37.47 L467.93,36.94 L468.65,36.48 L469.26,36.09 L469.78,35.76 L470.21,35.48 L470.57,35.26 L470.85,35.08 L471.07,34.94 L471.24,34.83 L471.36,34.75 L471.44,34.70 L471.48,34.67 L471.51,34.66 L471.52,34.65 L471.52,34.65" fill="none" stroke="#ff00ff" stroke-width="2.6" stroke-linejoin="round" stroke-dasharray="12.5 14.5" stroke-dashoffset="1.0"/><polygon points="208.20,236.07 217.50,230.70 217.50,241.44" fill="#ff00ff" stroke="none"/><polygon points="240.34,209.03 249.64,203.66 249.64,214.40" fill="#ff00ff" stroke="none"/><polygon points="272.48,181.05 281.78,175.68 281.78,186.42" fill="#ff00ff" stroke="none"/><polygon points="304.62,155.32 313.92,149.95 313.92,160.68" fill="#ff00ff" stroke="none"/><polygon points="336.76,129.95 346.06,124.58 346.06,135.32" fill="#ff00ff" stroke="none"/><polygon points="368.90,98.62 378.20,93.25 378.20,103.99" fill="#ff00ff" stroke="none"/><polygon points="401.04,68.22 410.34,62.85 410.34,73.59" fill="#ff00ff" stroke="none"/><polygon points="433.18,55.17 442.48,49.80 442.48,60.53" fill="#ff00ff" stroke="none"/><polygon points="465.32,34.65 474.62,29.28 474.62,40.02" fill="#ff00ff" stroke="none"/><path d="M117.34,261.25 L117.34,261.25 L117.34,261.24 L117.35,261.22 L117.36,261.18 L117.37,261.12 L117.40,261.03 L117.44,260.90 L117.49,260.73 L117.56,260.51 L117.64,260.24 L117.74,259.90 L117.86,259.50 L118.00,259.03 L118.16,258.48 L118.35,257.84 L118.57,257.11 L118.81,256.29 L119.09,255.37 L119.38,254.34 L119.71,253.20 L120.05,251.96 L120.42,250.61 L120.80,249.14 L121.20,247.55 L121.62,245.84 L122.05,244.00 L122.50,242.04 L122.96,239.94 L123.42,237.72 L123.90,235.35 L124.38,232.84 L124.86,230.20 L125.35,227.40 L125.84,224.48 L126.34,221.46 L126.83,218.34 L127.33,215.15 L127.83,211.90 L128.34,208.63 L128.84,205.34 L129.35,202.05 L129.85,198.78 L130.36,195.56 L130.87,192.39 L131.37,189.31 L131.88,186.32 L132.39,183.45 L132.90,180.71 L133.41,178.12 L133.91,175.69 L134.42,173.39 L134.92,171.24 L135.43,169.23 L135.93,167.35 L136.43,165.59 L136.93,163.96 L137.43,162.46 L137.93,161.06 L138.43,159.78 L138.93,158.61 L139.42,157.54 L139.92,156.57 L140.41,155.70 L140.91,154.91 L141.40,154.21 L141.90,153.59 L142.41,153.04 L142.93,152.55 L143.48,152.11 L144.07,151.71 L144.69,151.34 L145.35,151.00 L146.06,150.68 L146.83,150.36 L147.66,150.03 L148.56,149.70 L149.54,149.35 L150.60,148.96 L151.74,148.54 L152.99,148.07 L154.33,147.55 L155.76,146.98 L157.28,146.35 L158.89,145.68 L160.56,144.97 L162.31,144.23 L164.11,143.45 L165.98,142.64 L167.88,141.81 L169.83,140.95 L171.82,140.08 L173.83,139.19 L175.86,138.29 L177.91,137.39 L179.96,136.48 L182.02,135.58 L184.07,134.68 L186.12,133.78 L188.16,132.88 L190.19,131.98 L192.23,131.08 L194.25,130.16 L196.28,129.24 L198.30,128.31 L200.32,127.37 L202.33,126.40 L204.35,125.42 L206.36,124.42 L208.37,123.40 L210.38,122.35 L212.39,121.27 L214.40,120.16 L216.41,119.02 L218.42,117.85 L220.43,116.66 L222.44,115.45 L224.44,114.22 L226.45,112.99 L228.46,111.74 L230.47,110.50 L232.48,109.26 L234.49,108.03 L236.50,106.81 L238.50,105.61 L240.51,104.43 L242.52,103.28 L244.53,102.16 L246.54,101.08 L248.55,100.03 L250.56,99.02 L252.57,98.04 L254.57,97.10 L256.58,96.19 L258.59,95.31 L260.60,94.45 L262.61,93.61 L264.62,92.79 L266.63,91.99 L268.64,91.20 L270.64,90.43 L272.65,89.66 L274.66,88.90 L276.67,88.15 L278.68,87.40 L280.69,86.65 L282.69,85.90 L284.67,85.15 L286.63,84.42 L288.56,83.69 L290.45,82.98 L292.29,82.29 L294.08,81.62 L295.81,80.97 L297.46,80.34 L299.04,79.75 L300.53,79.19 L301.92,78.66 L303.21,78.18 L304.40,77.73 L305.46,77.33 L306.41,76.97 L307.23,76.66 L307.95,76.39 L308.56,76.16 L309.08,75.96 L309.51,75.80 L309.87,75.67 L310.15,75.56 L310.37,75.48 L310.54,75.41 L310.66,75.37 L310.74,75.34 L310.78,75.32 L310.81,75.31 L310.82,75.31 L310.82,75.31" fill="none" stroke="#808000" stroke-width="2.6" stroke-linejoin="round"/><polygon points="117.34,256.15 121.75,258.70 121.75,263.80 117.34,266.35 112.92,263.80 112.92,258.70" fill="#808000" stroke="none"/><polygon points="124.73,231.34 129.15,233.89 129.15,238.99 124.73,241.54 120.31,238.99 120.31,233.89" fill="#808000" stroke="none"/><polygon points="132.93,169.05 137.34,171.60 137.34,176.70 132.93,179.25 128.51,176.70 128.51,171.60" fill="#808000" stroke="none"/><polygon points="140.96,146.11 145.38,148.66 145.38,153.76 140.96,156.31 136.54,153.76 136.54,148.66" fill="#808000" stroke="none"/><polygon points="148.67,145.37 153.09,147.92 153.09,153.02 148.67,155.57 144.26,153.02 144.26,147.92" fill="#808000" stroke="none"/><polygon points="182.26,130.26 186.68,132.81 186.68,137.91 182.26,140.46 177.84,137.91 177.84,132.81" fill="#808000" stroke="none"/><polygon points="214.40,116.46 218.82,119.01 218.82,124.11 214.40,126.66 209.98,124.11 209.98,119.01" fill="#808000" stroke="none"/><polygon points="246.54,94.27 250.96,96.82 250.96,101.92 246.54,104.47 242.12,101.92 242.12,96.82" fill="#808000" stroke="none"/><polygon points="278.68,82.33 283.10,84.88 283.10,89.98 278.68,92.53 274.26,89.98 274.26,84.88" fill="#808000" stroke="none"/><polygon points="310.82,70.21 315.24,72.76 315.24,77.86 310.82,80.41 306.40,77.86 306.40,72.76" fill="#808000" stroke="none"/><path d="M124.73,190.94 L124.73,190.93 L124.73,190.92 L124.74,190.88 L124.75,190.79 L124.78,190.66 L124.81,190.46 L124.85,190.17 L124.92,189.80 L125.00,189.32 L125.10,188.71 L125.22,187.98 L125.36,187.09 L125.53,186.05 L125.73,184.84 L125.97,183.43 L126.23,181.83 L126.53,180.02 L126.86,178.02 L127.22,175.84 L127.61,173.52 L128.02,171.07 L128.46,168.52 L128.92,165.88 L129.39,163.18 L129.88,160.44 L130.39,157.69 L130.90,154.93 L131.42,152.20 L131.95,149.51 L132.48,146.90 L133.01,144.37 L133.54,141.95 L134.07,139.66 L134.59,137.50 L135.10,135.47 L135.62,133.56 L136.12,131.77 L136.63,130.10 L137.13,128.54 L137.63,127.10 L138.12,125.76 L138.61,124.53 L139.09,123.39 L139.57,122.36 L140.05,121.43 L140.53,120.58 L141.00,119.83 L141.47,119.17 L141.94,118.58 L142.41,118.07 L142.89,117.63 L143.38,117.25 L143.90,116.91 L144.45,116.61 L145.04,116.34 L145.67,116.09 L146.36,115.86 L147.09,115.62 L147.90,115.38 L148.77,115.13 L149.72,114.85 L150.75,114.54 L151.87,114.19 L153.09,113.79 L154.41,113.33 L155.83,112.81 L157.34,112.25 L158.93,111.64 L160.60,110.99 L162.33,110.30 L164.13,109.59 L165.99,108.85 L167.89,108.08 L169.84,107.31 L171.82,106.52 L173.83,105.73 L175.86,104.93 L177.91,104.14 L179.96,103.36 L182.02,102.60 L184.07,101.85 L186.12,101.12 L188.16,100.39 L190.19,99.68 L192.23,98.97 L194.25,98.26 L196.28,97.55 L198.30,96.82 L200.32,96.09 L202.33,95.35 L204.35,94.58 L206.36,93.79 L208.37,92.98 L210.38,92.14 L212.39,91.26 L214.40,90.35 L216.41,89.40 L218.42,88.41 L220.43,87.39 L222.44,86.34 L224.44,85.27 L226.45,84.19 L228.46,83.08 L230.47,81.97 L232.48,80.86 L234.49,79.75 L236.50,78.64 L238.50,77.54 L240.51,76.45 L242.52,75.38 L244.53,74.34 L246.54,73.32 L248.55,72.33 L250.56,71.38 L252.57,70.45 L254.57,69.56 L256.58,68.70 L258.59,67.87 L260.60,67.07 L262.61,66.30 L264.62,65.56 L266.63,64.84 L268.64,64.16 L270.64,63.50 L272.65,62.88 L274.66,62.28 L276.67,61.71 L278.68,61.16 L280.69,60.65 L282.69,60.16 L284.67,59.69 L286.63,59.25 L288.56,58.84 L290.45,58.45 L292.29,58.09 L294.08,57.74 L295.81,57.43 L297.46,57.13 L299.04,56.86 L300.53,56.61 L301.92,56.38 L303.21,56.17 L304.40,55.99 L305.46,55.82 L306.41,55.67 L307.23,55.54 L307.95,55.43 L308.56,55.33 L309.08,55.25 L309.51,55.18 L309.87,55.13 L310.15,55.08 L310.37,55.05 L310.54,55.02 L310.66,55.00 L310.74,54.99 L310.78,54.98 L310.81,54.98 L310.82,54.98 L310.82,54.98" fill="none" stroke="#808000" stroke-width="2.6" stroke-linejoin="round" stroke-dasharray="12.5 14.5" stroke-dashoffset="-7.5"/><polygon points="124.73,185.84 129.15,188.39 129.15,193.49 124.73,196.04 120.31,193.49 120.31,188.39" fill="#808000" stroke="none"/><polygon points="133.73,131.19 138.15,133.74 138.15,138.84 133.73,141.39 129.31,138.84 129.31,133.74" fill="#808000" stroke="none"/><polygon points="141.60,110.49 146.02,113.04 146.02,118.14 141.60,120.69 137.19,118.14 137.19,113.04" fill="#808000" stroke="none"/><polygon points="148.67,111.24 153.09,113.79 153.09,118.89 148.67,121.44 144.26,118.89 144.26,113.79" fill="#808000" stroke="none"/><polygon points="182.26,96.69 186.68,99.24 186.68,104.34 182.26,106.89 177.84,104.34 177.84,99.24" fill="#808000" stroke="none"/><polygon points="214.40,86.99 218.82,89.54 218.82,94.64 214.40,97.19 209.98,94.64 209.98,89.54" fill="#808000" stroke="none"/><polygon points="246.54,66.85 250.96,69.40 250.96,74.50 246.54,77.05 242.12,74.50 242.12,69.40" fill="#808000" stroke="none"/><polygon points="278.68,54.91 283.10,57.46 283.10,62.56 278.68,65.11 274.26,62.56 274.26,57.46" fill="#808000" stroke="none"/><polygon points="310.82,49.88 315.24,52.43 315.24,57.53 310.82,60.08 306.40,57.53 306.40,52.43" fill="#808000" stroke="none"/><path d="M108.34,269.64 L108.34,269.64 L108.34,269.64 L108.35,269.64 L108.36,269.64 L108.38,269.64 L108.41,269.64 L108.45,269.64 L108.51,269.64 L108.59,269.65 L108.68,269.65 L108.79,269.65 L108.93,269.65 L109.09,269.66 L109.27,269.66 L109.49,269.67 L109.73,269.67 L110.01,269.68 L110.32,269.68 L110.65,269.69 L111.02,269.69 L111.40,269.69 L111.81,269.69 L112.25,269.69 L112.70,269.67 L113.16,269.66 L113.65,269.64 L114.14,269.61 L114.65,269.57 L115.17,269.52 L115.69,269.47 L116.22,269.41 L116.75,269.33 L117.28,269.24 L117.81,269.14 L118.35,269.04 L118.88,268.92 L119.42,268.80 L119.95,268.67 L120.49,268.53 L121.02,268.39 L121.55,268.25 L122.08,268.10 L122.61,267.96 L123.14,267.81 L123.66,267.67 L124.18,267.52 L124.70,267.38 L125.21,267.25 L125.72,267.12 L126.23,266.99 L126.73,266.87 L127.23,266.75 L127.73,266.63 L128.23,266.52 L128.73,266.42 L129.23,266.31 L129.72,266.21 L130.22,266.12 L130.71,266.02 L131.21,265.93 L131.71,265.83 L132.21,265.74 L132.71,265.66 L133.22,265.57 L133.73,265.48 L134.24,265.39 L134.75,265.31 L135.27,265.22 L135.79,265.13 L136.31,265.04 L136.84,264.94 L137.36,264.84 L137.89,264.74 L138.42,264.63 L138.95,264.52 L139.48,264.40 L140.01,264.28 L140.54,264.14 L141.07,264.01 L141.60,263.86 L142.14,263.70 L142.68,263.54 L143.23,263.36 L143.79,263.18 L144.38,262.98 L145.00,262.77 L145.66,262.55 L146.35,262.32 L147.09,262.08 L147.89,261.82 L148.74,261.55 L149.65,261.27 L150.63,260.97 L151.69,260.65 L152.83,260.32 L154.06,259.97 L155.37,259.61 L156.78,259.23 L158.26,258.83 L159.82,258.42 L161.44,257.99 L163.13,257.55 L164.88,257.09 L166.68,256.61 L168.53,256.12 L170.42,255.62 L172.34,255.10 L174.29,254.57 L176.26,254.02 L178.25,253.46 L180.25,252.88 L182.26,252.30 L184.27,251.69 L186.28,251.07 L188.29,250.42 L190.29,249.72 L192.30,248.99 L194.31,248.19 L196.32,247.34 L198.33,246.41 L200.34,245.40 L202.35,244.31 L204.36,243.11 L206.36,241.82 L208.37,240.41 L210.38,238.88 L212.39,237.22 L214.40,235.42 L216.41,233.48 L218.42,231.40 L220.43,229.20 L222.44,226.88 L224.44,224.46 L226.45,221.95 L228.46,219.37 L230.47,216.71 L232.48,213.99 L234.49,211.23 L236.50,208.43 L238.50,205.61 L240.51,202.77 L242.52,199.94 L244.53,197.10 L246.54,194.29 L248.55,191.51 L250.56,188.76 L252.57,186.04 L254.57,183.34 L256.58,180.68 L258.59,178.04 L260.60,175.43 L262.61,172.84 L264.62,170.28 L266.63,167.75 L268.64,165.24 L270.64,162.76 L272.65,160.30 L274.66,157.86 L276.67,155.44 L278.68,153.05 L280.69,150.67 L282.70,148.32 L284.71,145.99 L286.72,143.68 L288.72,141.39 L290.73,139.13 L292.74,136.88 L294.75,134.66 L296.76,132.45 L298.77,130.27 L300.78,128.11 L302.78,125.98 L304.79,123.86 L306.80,121.77 L308.81,119.69 L310.82,117.64 L312.83,115.61 L314.84,113.61 L316.85,111.62 L318.86,109.65 L320.86,107.70 L322.87,105.76 L324.88,103.84 L326.89,101.94 L328.90,100.05 L330.91,98.17 L332.92,96.30 L334.93,94.45 L336.93,92.60 L338.94,90.77 L340.95,88.94 L342.96,87.12 L344.97,85.30 L346.97,83.50 L348.95,81.72 L350.91,79.96 L352.84,78.24 L354.73,76.55 L356.57,74.91 L358.36,73.32 L360.09,71.79 L361.74,70.32 L363.32,68.92 L364.81,67.61 L366.20,66.37 L367.49,65.23 L368.68,64.19 L369.74,63.25 L370.69,62.42 L371.51,61.69 L372.23,61.06 L372.84,60.52 L373.36,60.06 L373.79,59.68 L374.15,59.36 L374.43,59.11 L374.65,58.92 L374.82,58.77 L374.94,58.67 L375.02,58.60 L375.06,58.55 L375.09,58.53 L375.10,58.52 L375.10,58.52" fill="none" stroke="#000080" stroke-width="2.6" stroke-linejoin="round"/><polygon points="108.34,264.14 109.81,267.62 113.57,267.94 110.72,270.41 111.57,274.09 108.34,272.14 105.11,274.09 105.96,270.41 103.11,267.94 106.87,267.62" fill="#000080" stroke="none"/><polygon points="116.69,264.33 118.16,267.80 121.93,268.13 119.07,270.60 119.93,274.28 116.69,272.33 113.46,274.28 114.32,270.60 111.46,268.13 115.22,267.80" fill="#000080" stroke="none"/><polygon points="125.37,261.53 126.84,265.01 130.60,265.33 127.75,267.80 128.61,271.48 125.37,269.53 122.14,271.48 122.99,267.80 120.14,265.33 123.90,265.01" fill="#000080" stroke="none"/><polygon points="133.09,260.04 134.56,263.51 138.32,263.84 135.46,266.31 136.32,269.99 133.09,268.04 129.85,269.99 130.71,266.31 127.85,263.84 131.62,263.51" fill="#000080" stroke="none"/><polygon points="141.60,258.73 143.07,262.21 146.83,262.53 143.98,265.00 144.84,268.68 141.60,266.73 138.37,268.68 139.23,265.00 136.37,262.53 140.13,262.21" fill="#000080" stroke="none"/><polygon points="150.12,255.19 151.59,258.67 155.35,258.99 152.50,261.46 153.35,265.14 150.12,263.19 146.89,265.14 147.74,261.46 144.89,258.99 148.65,258.67" fill="#000080" stroke="none"/><polygon points="182.26,247.36 183.73,250.83 187.49,251.16 184.64,253.63 185.49,257.30 182.26,255.36 179.03,257.30 179.88,253.63 177.03,251.16 180.79,250.83" fill="#000080" stroke="none"/><polygon points="214.40,236.17 215.87,239.64 219.63,239.97 216.78,242.44 217.63,246.11 214.40,244.17 211.17,246.11 212.02,242.44 209.17,239.97 212.93,239.64" fill="#000080" stroke="none"/><polygon points="246.54,187.49 248.01,190.97 251.77,191.29 248.92,193.76 249.77,197.44 246.54,195.49 243.31,197.44 244.16,193.76 241.31,191.29 245.07,190.97" fill="#000080" stroke="none"/><polygon points="278.68,146.65 280.15,150.12 283.91,150.45 281.06,152.92 281.91,156.59 278.68,154.65 275.45,156.59 276.30,152.92 273.45,150.45 277.21,150.12" fill="#000080" stroke="none"/><polygon points="310.82,111.21 312.29,114.69 316.05,115.01 313.20,117.48 314.05,121.16 310.82,119.21 307.59,121.16 308.44,117.48 305.59,115.01 309.35,114.69" fill="#000080" stroke="none"/><polygon points="342.96,81.37 344.43,84.85 348.19,85.17 345.34,87.64 346.19,91.32 342.96,89.37 339.73,91.32 340.58,87.64 337.73,85.17 341.49,84.85" fill="#000080" stroke="none"/><polygon points="375.10,53.02 376.57,56.50 380.33,56.82 377.48,59.29 378.33,62.97 375.10,61.02 371.87,62.97 372.72,59.29 369.87,56.82 373.63,56.50" fill="#000080" stroke="none"/><path d="M108.82,211.27 L108.82,211.27 L108.82,211.27 L108.83,211.26 L108.84,211.26 L108.86,211.26 L108.89,211.26 L108.94,211.26 L109.00,211.25 L109.07,211.24 L109.17,211.24 L109.28,211.23 L109.42,211.21 L109.58,211.20 L109.77,211.18 L109.99,211.16 L110.24,211.14 L110.52,211.12 L110.84,211.09 L111.18,211.06 L111.55,211.03 L111.94,211.00 L112.36,210.97 L112.79,210.93 L113.25,210.90 L113.72,210.87 L114.20,210.84 L114.69,210.81 L115.20,210.78 L115.71,210.76 L116.22,210.74 L116.74,210.72 L117.26,210.71 L117.77,210.70 L118.29,210.69 L118.80,210.69 L119.31,210.69 L119.82,210.69 L120.33,210.70 L120.84,210.71 L121.35,210.72 L121.86,210.73 L122.37,210.75 L122.88,210.76 L123.38,210.78 L123.89,210.79 L124.40,210.80 L124.91,210.82 L125.43,210.83 L125.94,210.84 L126.45,210.85 L126.97,210.86 L127.48,210.87 L128.00,210.87 L128.51,210.88 L129.03,210.88 L129.55,210.88 L130.06,210.89 L130.58,210.89 L131.09,210.89 L131.61,210.89 L132.12,210.89 L132.63,210.89 L133.14,210.89 L133.65,210.89 L134.15,210.89 L134.66,210.89 L135.16,210.89 L135.66,210.89 L136.16,210.89 L136.66,210.89 L137.16,210.88 L137.66,210.88 L138.15,210.88 L138.65,210.87 L139.14,210.86 L139.63,210.85 L140.13,210.84 L140.62,210.83 L141.11,210.82 L141.60,210.80 L142.10,210.78 L142.60,210.76 L143.11,210.73 L143.64,210.70 L144.19,210.66 L144.77,210.61 L145.40,210.56 L146.06,210.49 L146.77,210.41 L147.54,210.32 L148.37,210.21 L149.26,210.09 L150.23,209.95 L151.27,209.80 L152.41,209.63 L153.63,209.43 L154.95,209.22 L156.36,208.98 L157.85,208.72 L159.42,208.45 L161.07,208.15 L162.78,207.83 L164.55,207.49 L166.37,207.12 L168.25,206.74 L170.16,206.34 L172.11,205.91 L174.08,205.46 L176.08,204.99 L178.10,204.51 L180.12,204.00 L182.15,203.46 L184.18,202.91 L186.21,202.33 L188.23,201.72 L190.25,201.07 L192.27,200.37 L194.29,199.63 L196.30,198.83 L198.32,197.97 L200.33,197.04 L202.34,196.04 L204.35,194.96 L206.36,193.80 L208.37,192.55 L210.38,191.20 L212.39,189.76 L214.40,188.20 L216.41,186.54 L218.42,184.77 L220.43,182.90 L222.44,180.95 L224.44,178.91 L226.45,176.79 L228.46,174.61 L230.47,172.36 L232.48,170.07 L234.49,167.72 L236.50,165.34 L238.50,162.92 L240.51,160.48 L242.52,158.02 L244.53,155.55 L246.54,153.08 L248.55,150.61 L250.56,148.15 L252.57,145.69 L254.57,143.25 L256.58,140.81 L258.59,138.39 L260.60,135.99 L262.61,133.60 L264.62,131.22 L266.63,128.87 L268.64,126.54 L270.64,124.24 L272.65,121.96 L274.66,119.70 L276.67,117.48 L278.68,115.28 L280.69,113.12 L282.70,110.98 L284.71,108.88 L286.72,106.80 L288.72,104.75 L290.73,102.72 L292.74,100.72 L294.75,98.74 L296.76,96.77 L298.77,94.83 L300.78,92.90 L302.78,90.99 L304.79,89.09 L306.80,87.20 L308.81,85.32 L310.82,83.45 L312.83,81.59 L314.84,79.74 L316.85,77.90 L318.86,76.07 L320.86,74.26 L322.87,72.47 L324.88,70.70 L326.89,68.95 L328.90,67.23 L330.91,65.54 L332.92,63.87 L334.93,62.24 L336.93,60.64 L338.94,59.08 L340.95,57.55 L342.96,56.07 L344.97,54.63 L346.97,53.23 L348.95,51.88 L350.91,50.58 L352.84,49.32 L354.73,48.12 L356.57,46.98 L358.36,45.88 L360.09,44.85 L361.74,43.87 L363.32,42.95 L364.81,42.09 L366.20,41.30 L367.49,40.57 L368.68,39.91 L369.74,39.31 L370.69,38.79 L371.51,38.33 L372.23,37.93 L372.84,37.59 L373.36,37.30 L373.79,37.06 L374.15,36.86 L374.43,36.70 L374.65,36.58 L374.82,36.49 L374.94,36.42 L375.02,36.38 L375.06,36.35 L375.09,36.33 L375.10,36.33 L375.10,36.33" fill="none" stroke="#000080" stroke-width="2.6" stroke-linejoin="round" stroke-dasharray="12.5 14.5" stroke-dashoffset="1.0"/><polygon points="108.82,205.77 110.29,209.24 114.05,209.57 111.20,212.04 112.05,215.72 108.82,213.77 105.59,215.72 106.44,212.04 103.59,209.57 107.35,209.24" fill="#000080" stroke="none"/><polygon points="117.34,205.02 118.81,208.50 122.57,208.82 119.71,211.29 120.57,214.97 117.34,213.02 114.10,214.97 114.96,211.29 112.11,208.82 115.87,208.50" fill="#000080" stroke="none"/><polygon points="125.37,205.39 126.84,208.87 130.60,209.19 127.75,211.67 128.61,215.34 125.37,213.39 122.14,215.34 122.99,211.67 120.14,209.19 123.90,208.87" fill="#000080" stroke="none"/><polygon points="133.73,205.39 135.20,208.87 138.96,209.19 136.11,211.67 136.96,215.34 133.73,213.39 130.50,215.34 131.35,211.67 128.50,209.19 132.26,208.87" fill="#000080" stroke="none"/><polygon points="141.60,205.39 143.07,208.87 146.83,209.19 143.98,211.67 144.84,215.34 141.60,213.39 138.37,215.34 139.23,211.67 136.37,209.19 140.13,208.87" fill="#000080" stroke="none"/><polygon points="149.48,204.83 150.95,208.31 154.71,208.63 151.85,211.11 152.71,214.78 149.48,212.83 146.24,214.78 147.10,211.11 144.25,208.63 148.01,208.31" fill="#000080" stroke="none"/><polygon points="182.26,198.87 183.73,202.34 187.49,202.67 184.64,205.14 185.49,208.81 182.26,206.87 179.03,208.81 179.88,205.14 177.03,202.67 180.79,202.34" fill="#000080" stroke="none"/><polygon points="214.40,187.49 215.87,190.97 219.63,191.29 216.78,193.76 217.63,197.44 214.40,195.49 211.17,197.44 212.02,193.76 209.17,191.29 212.93,190.97" fill="#000080" stroke="none"/><polygon points="246.54,147.39 248.01,150.87 251.77,151.19 248.92,153.66 249.77,157.34 246.54,155.39 243.31,157.34 244.16,153.66 241.31,151.19 245.07,150.87" fill="#000080" stroke="none"/><polygon points="278.68,108.41 280.15,111.89 283.91,112.21 281.06,114.69 281.91,118.36 278.68,116.41 275.45,118.36 276.30,114.69 273.45,112.21 277.21,111.89" fill="#000080" stroke="none"/><polygon points="310.82,77.64 312.29,81.12 316.05,81.44 313.20,83.91 314.05,87.59 310.82,85.64 307.59,87.59 308.44,83.91 305.59,81.44 309.35,81.12" fill="#000080" stroke="none"/><polygon points="342.96,48.73 344.43,52.21 348.19,52.53 345.34,55.01 346.19,58.68 342.96,56.73 339.73,58.68 340.58,55.01 337.73,52.53 341.49,52.21" fill="#000080" stroke="none"/><polygon points="375.10,30.83 376.57,34.31 380.33,34.63 377.48,37.10 378.33,40.78 375.10,38.83 371.87,40.78 372.72,37.10 369.87,34.63 373.63,34.31" fill="#000080" stroke="none"/><path d="M108.82,188.70 L108.82,188.70 L108.82,188.70 L108.83,188.70 L108.84,188.70 L108.86,188.70 L108.89,188.71 L108.93,188.71 L108.98,188.71 L109.05,188.72 L109.14,188.73 L109.25,188.74 L109.37,188.75 L109.52,188.77 L109.70,188.78 L109.90,188.80 L110.13,188.82 L110.39,188.85 L110.68,188.87 L111.00,188.90 L111.34,188.93 L111.71,188.95 L112.10,188.97 L112.51,188.99 L112.94,189.00 L113.38,189.00 L113.84,189.00 L114.32,188.98 L114.80,188.96 L115.30,188.92 L115.80,188.87 L116.31,188.81 L116.83,188.73 L117.35,188.63 L117.87,188.52 L118.39,188.40 L118.92,188.27 L119.44,188.12 L119.97,187.97 L120.50,187.81 L121.03,187.65 L121.56,187.49 L122.09,187.33 L122.61,187.17 L123.14,187.01 L123.66,186.86 L124.18,186.72 L124.70,186.58 L125.21,186.46 L125.72,186.35 L126.23,186.25 L126.73,186.17 L127.23,186.09 L127.73,186.03 L128.23,185.98 L128.73,185.94 L129.23,185.91 L129.72,185.89 L130.22,185.88 L130.71,185.87 L131.21,185.88 L131.71,185.89 L132.21,185.91 L132.71,185.93 L133.22,185.96 L133.73,186.00 L134.24,186.04 L134.75,186.09 L135.27,186.13 L135.79,186.18 L136.31,186.22 L136.83,186.25 L137.35,186.28 L137.87,186.30 L138.39,186.32 L138.91,186.32 L139.43,186.30 L139.95,186.28 L140.47,186.23 L140.98,186.17 L141.50,186.09 L142.01,185.98 L142.52,185.84 L143.05,185.64 L143.59,185.36 L144.16,185.01 L144.75,184.54 L145.38,183.96 L146.05,183.24 L146.76,182.37 L147.53,181.32 L148.36,180.09 L149.26,178.66 L150.23,177.01 L151.27,175.12 L152.41,172.98 L153.63,170.58 L154.95,167.89 L156.36,164.96 L157.85,161.82 L159.42,158.51 L161.07,155.06 L162.78,151.51 L164.55,147.90 L166.37,144.27 L168.25,140.64 L170.16,137.07 L172.11,133.59 L174.08,130.23 L176.08,127.04 L178.10,124.04 L180.12,121.28 L182.15,118.79 L184.18,116.61 L186.21,114.71 L188.23,113.09 L190.25,111.72 L192.27,110.58 L194.29,109.66 L196.30,108.93 L198.32,108.37 L200.33,107.96 L202.34,107.69 L204.35,107.53 L206.36,107.47 L208.37,107.48 L210.38,107.54 L212.39,107.64 L214.40,107.76 L216.41,107.87 L218.42,107.98 L220.43,108.09 L222.44,108.20 L224.44,108.30 L226.45,108.41 L228.46,108.51 L230.47,108.62 L232.48,108.72 L234.49,108.83 L236.50,108.95 L238.50,109.06 L240.51,109.19 L242.52,109.32 L244.53,109.45 L246.54,109.59 L248.55,109.74 L250.56,109.90 L252.57,110.06 L254.57,110.22 L256.58,110.38 L258.59,110.54 L260.60,110.70 L262.61,110.85 L264.62,111.00 L266.63,111.13 L268.64,111.26 L270.64,111.37 L272.65,111.46 L274.66,111.54 L276.67,111.60 L278.68,111.64 L280.69,111.66 L282.70,111.66 L284.71,111.63 L286.72,111.59 L288.72,111.53 L290.73,111.45 L292.74,111.36 L294.75,111.25 L296.76,111.13 L298.77,111.00 L300.78,110.86 L302.78,110.71 L304.79,110.55 L306.80,110.38 L308.81,110.21 L310.82,110.03 L312.83,109.84 L314.84,109.66 L316.85,109.48 L318.86,109.30 L320.86,109.12 L322.87,108.94 L324.88,108.78 L326.89,108.62 L328.90,108.48 L330.91,108.35 L332.92,108.23 L334.93,108.13 L336.93,108.05 L338.94,107.99 L340.95,107.96 L342.96,107.94 L344.97,107.96 L346.98,107.99 L348.99,108.05 L351.00,108.11 L353.00,108.19 L355.01,108.28 L357.02,108.37 L359.03,108.46 L361.04,108.54 L363.05,108.62 L365.06,108.68 L367.06,108.73 L369.07,108.76 L371.08,108.77 L373.09,108.74 L375.10,108.69 L377.11,108.60 L379.12,108.49 L381.13,108.34 L383.13,108.17 L385.14,107.98 L387.15,107.77 L389.16,107.56 L391.17,107.33 L393.18,107.09 L395.19,106.86 L397.20,106.62 L399.20,106.40 L401.21,106.18 L403.22,105.97 L405.23,105.78 L407.24,105.61 L409.25,105.47 L411.26,105.33 L413.27,105.19 L415.28,105.03 L417.28,104.84 L419.29,104.60 L421.30,104.31 L423.31,103.94 L425.32,103.49 L427.33,102.93 L429.34,102.27 L431.34,101.47 L433.35,100.53 L435.36,99.44 L437.37,98.17 L439.38,96.72 L441.39,95.08 L443.39,93.27 L445.37,91.31 L447.33,89.23 L449.26,87.04 L451.15,84.79 L452.99,82.48 L454.78,80.14 L456.51,77.81 L458.16,75.50 L459.74,73.23 L461.23,71.04 L462.62,68.95 L463.91,66.98 L465.10,65.15 L466.16,63.50 L467.11,62.03 L467.93,60.75 L468.65,59.63 L469.26,58.68 L469.78,57.87 L470.21,57.20 L470.57,56.65 L470.85,56.21 L471.07,55.86 L471.24,55.60 L471.36,55.42 L471.44,55.30 L471.48,55.22 L471.51,55.18 L471.52,55.17 L471.52,55.17" fill="none" stroke="#800000" stroke-width="2.6" stroke-linejoin="round"/><polygon points="108.82,183.70 114.05,187.50 112.05,193.65 105.59,193.65 103.59,187.50" fill="#800000" stroke="none"/><polygon points="116.69,184.45 121.93,188.25 119.93,194.39 113.46,194.39 111.46,188.25" fill="#800000" stroke="none"/><polygon points="125.37,180.90 130.60,184.70 128.61,190.85 122.14,190.85 120.14,184.70" fill="#800000" stroke="none"/><polygon points="133.09,180.72 138.32,184.52 136.32,190.66 129.85,190.66 127.85,184.52" fill="#800000" stroke="none"/><polygon points="141.60,182.02 146.83,185.82 144.84,191.97 138.37,191.97 136.37,185.82" fill="#800000" stroke="none"/><polygon points="149.48,177.73 154.71,181.53 152.71,187.68 146.24,187.68 144.25,181.53" fill="#800000" stroke="none"/><polygon points="182.26,100.52 187.49,104.32 185.49,110.47 179.03,110.47 177.03,104.32" fill="#800000" stroke="none"/><polygon points="214.40,102.94 219.63,106.74 217.63,112.89 211.17,112.89 209.17,106.74" fill="#800000" stroke="none"/><polygon points="246.54,104.25 251.77,108.05 249.77,114.20 243.31,114.20 241.31,108.05" fill="#800000" stroke="none"/><polygon points="278.68,107.61 283.91,111.41 281.91,117.56 275.45,117.56 273.45,111.41" fill="#800000" stroke="none"/><polygon points="310.82,105.18 316.05,108.98 314.05,115.13 307.59,115.13 305.59,108.98" fill="#800000" stroke="none"/><polygon points="342.96,101.83 348.19,105.63 346.19,111.78 339.73,111.78 337.73,105.63" fill="#800000" stroke="none"/><polygon points="375.10,105.18 380.33,108.98 378.33,115.13 371.87,115.13 369.87,108.98" fill="#800000" stroke="none"/><polygon points="407.24,99.59 412.47,103.39 410.47,109.54 404.01,109.54 402.01,103.39" fill="#800000" stroke="none"/><polygon points="439.38,100.15 444.61,103.95 442.61,110.10 436.15,110.10 434.15,103.95" fill="#800000" stroke="none"/><polygon points="471.52,50.17 476.75,53.97 474.75,60.11 468.29,60.11 466.29,53.97" fill="#800000" stroke="none"/><path d="M108.82,148.41 L108.82,148.42 L108.82,148.42 L108.83,148.42 L108.84,148.43 L108.86,148.44 L108.90,148.45 L108.94,148.47 L109.00,148.50 L109.08,148.54 L109.17,148.59 L109.29,148.65 L109.43,148.72 L109.60,148.80 L109.79,148.89 L110.01,149.00 L110.27,149.13 L110.55,149.27 L110.87,149.43 L111.22,149.59 L111.60,149.75 L112.00,149.92 L112.42,150.08 L112.86,150.23 L113.32,150.37 L113.80,150.48 L114.29,150.58 L114.79,150.65 L115.29,150.69 L115.81,150.69 L116.33,150.65 L116.85,150.57 L117.36,150.44 L117.88,150.25 L118.39,150.02 L118.90,149.75 L119.41,149.44 L119.91,149.10 L120.42,148.73 L120.92,148.34 L121.41,147.93 L121.91,147.52 L122.41,147.10 L122.90,146.68 L123.39,146.27 L123.88,145.86 L124.37,145.48 L124.86,145.11 L125.35,144.78 L125.83,144.47 L126.32,144.20 L126.81,143.96 L127.29,143.74 L127.78,143.55 L128.27,143.39 L128.75,143.25 L129.24,143.13 L129.73,143.03 L130.22,142.95 L130.72,142.88 L131.21,142.83 L131.71,142.80 L132.21,142.77 L132.71,142.76 L133.22,142.76 L133.73,142.76 L134.24,142.77 L134.75,142.78 L135.27,142.80 L135.79,142.81 L136.31,142.82 L136.83,142.83 L137.35,142.83 L137.87,142.82 L138.39,142.80 L138.91,142.77 L139.43,142.73 L139.95,142.67 L140.47,142.60 L140.98,142.50 L141.50,142.38 L142.01,142.24 L142.52,142.06 L143.05,141.84 L143.59,141.54 L144.16,141.18 L144.75,140.72 L145.38,140.16 L146.05,139.48 L146.76,138.68 L147.53,137.73 L148.36,136.62 L149.26,135.35 L150.23,133.90 L151.27,132.25 L152.41,130.39 L153.63,128.30 L154.95,125.99 L156.36,123.48 L157.85,120.80 L159.42,117.97 L161.07,115.03 L162.78,112.02 L164.55,108.96 L166.37,105.88 L168.25,102.82 L170.16,99.81 L172.11,96.88 L174.08,94.06 L176.08,91.38 L178.10,88.87 L180.12,86.57 L182.15,84.51 L184.18,82.70 L186.21,81.15 L188.23,79.83 L190.25,78.73 L192.27,77.82 L194.29,77.09 L196.30,76.53 L198.32,76.11 L200.33,75.82 L202.34,75.63 L204.35,75.54 L206.36,75.53 L208.37,75.57 L210.38,75.65 L212.39,75.76 L214.40,75.87 L216.41,75.97 L218.42,76.05 L220.43,76.13 L222.44,76.20 L224.44,76.25 L226.45,76.31 L228.46,76.36 L230.47,76.40 L232.48,76.44 L234.49,76.48 L236.50,76.52 L238.50,76.56 L240.51,76.61 L242.52,76.65 L244.53,76.71 L246.54,76.77 L248.55,76.84 L250.56,76.91 L252.57,76.99 L254.57,77.08 L256.58,77.18 L258.59,77.27 L260.60,77.38 L262.61,77.48 L264.62,77.59 L266.63,77.70 L268.64,77.82 L270.64,77.93 L272.65,78.05 L274.66,78.16 L276.67,78.27 L278.68,78.38 L280.69,78.49 L282.70,78.60 L284.71,78.70 L286.72,78.80 L288.72,78.88 L290.73,78.96 L292.74,79.03 L294.75,79.09 L296.76,79.13 L298.77,79.16 L300.78,79.18 L302.78,79.18 L304.79,79.16 L306.80,79.12 L308.81,79.06 L310.82,78.97 L312.83,78.87 L314.84,78.75 L316.85,78.60 L318.86,78.45 L320.86,78.28 L322.87,78.10 L324.88,77.92 L326.89,77.73 L328.90,77.55 L330.91,77.36 L332.92,77.19 L334.93,77.02 L336.93,76.86 L338.94,76.72 L340.95,76.59 L342.96,76.49 L344.97,76.41 L346.98,76.35 L348.99,76.30 L351.00,76.28 L353.00,76.27 L355.01,76.27 L357.02,76.28 L359.03,76.30 L361.04,76.33 L363.05,76.36 L365.06,76.39 L367.06,76.42 L369.07,76.45 L371.08,76.47 L373.09,76.48 L375.10,76.49 L377.11,76.48 L379.12,76.46 L381.13,76.43 L383.13,76.39 L385.14,76.33 L387.15,76.26 L389.16,76.17 L391.17,76.07 L393.18,75.96 L395.19,75.82 L397.20,75.67 L399.20,75.50 L401.21,75.32 L403.22,75.12 L405.23,74.90 L407.24,74.65 L409.25,74.39 L411.26,74.11 L413.27,73.79 L415.28,73.43 L417.28,73.03 L419.29,72.58 L421.30,72.08 L423.31,71.51 L425.32,70.88 L427.33,70.18 L429.34,69.39 L431.34,68.53 L433.35,67.57 L435.36,66.51 L437.37,65.35 L439.38,64.09 L441.39,62.71 L443.39,61.23 L445.37,59.67 L447.33,58.05 L449.26,56.37 L451.15,54.66 L452.99,52.93 L454.78,51.20 L456.51,49.48 L458.16,47.79 L459.74,46.14 L461.23,44.55 L462.62,43.04 L463.91,41.62 L465.10,40.31 L466.16,39.13 L467.11,38.08 L467.93,37.16 L468.65,36.36 L469.26,35.68 L469.78,35.10 L470.21,34.62 L470.57,34.22 L470.85,33.90 L471.07,33.66 L471.24,33.47 L471.36,33.34 L471.44,33.25 L471.48,33.20 L471.51,33.17 L471.52,33.16 L471.52,33.16" fill="none" stroke="#800000" stroke-width="2.6" stroke-linejoin="round" stroke-dasharray="12.5 14.5" stroke-dashoffset="1.0"/><polygon points="108.82,143.41 114.05,147.22 112.05,153.36 105.59,153.36 103.59,147.22" fill="#800000" stroke="none"/><polygon points="117.50,147.70 122.73,151.50 120.73,157.65 114.27,157.65 112.27,151.50" fill="#800000" stroke="none"/><polygon points="125.37,138.38 130.60,142.18 128.61,148.33 122.14,148.33 120.14,142.18" fill="#800000" stroke="none"/><polygon points="133.09,137.45 138.32,141.25 136.32,147.40 129.85,147.40 127.85,141.25" fill="#800000" stroke="none"/><polygon points="141.60,138.38 146.83,142.18 144.84,148.33 138.37,148.33 136.37,142.18" fill="#800000" stroke="none"/><polygon points="149.48,133.34 154.71,137.14 152.71,143.29 146.24,143.29 144.25,137.14" fill="#800000" stroke="none"/><polygon points="182.26,68.07 187.49,71.87 185.49,78.02 179.03,78.02 177.03,71.87" fill="#800000" stroke="none"/><polygon points="214.40,71.43 219.63,75.23 217.63,81.38 211.17,81.38 209.17,75.23" fill="#800000" stroke="none"/><polygon points="246.54,71.43 251.77,75.23 249.77,81.38 243.31,81.38 241.31,75.23" fill="#800000" stroke="none"/><polygon points="278.68,73.48 283.91,77.28 281.91,83.43 275.45,83.43 273.45,77.28" fill="#800000" stroke="none"/><polygon points="310.82,74.97 316.05,78.77 314.05,84.92 307.59,84.92 305.59,78.77" fill="#800000" stroke="none"/><polygon points="342.96,70.49 348.19,74.29 346.19,80.44 339.73,80.44 337.73,74.29" fill="#800000" stroke="none"/><polygon points="375.10,71.99 380.33,75.79 378.33,81.94 371.87,81.94 369.87,75.79" fill="#800000" stroke="none"/><polygon points="407.24,70.49 412.47,74.29 410.47,80.44 404.01,80.44 402.01,74.29" fill="#800000" stroke="none"/><polygon points="439.38,63.97 444.61,67.77 442.61,73.92 436.15,73.92 434.15,67.77" fill="#800000" stroke="none"/><polygon points="471.52,28.16 476.75,31.96 474.75,38.11 468.29,38.11 466.29,31.96" fill="#800000" stroke="none"/></g>
<g fill="none" stroke="#000" stroke-width="2"><line x1="69.77" y1="370.35" x2="69.77" y2="366.85" /><line x1="85.84" y1="370.35" x2="85.84" y2="363.35" /><line x1="101.91" y1="370.35" x2="101.91" y2="366.85" /><line x1="117.98" y1="370.35" x2="117.98" y2="363.35" /><line x1="134.05" y1="370.35" x2="134.05" y2="366.85" /><line x1="150.12" y1="370.35" x2="150.12" y2="363.35" /><line x1="166.19" y1="370.35" x2="166.19" y2="366.85" /><line x1="182.26" y1="370.35" x2="182.26" y2="363.35" /><line x1="198.33" y1="370.35" x2="198.33" y2="366.85" /><line x1="214.40" y1="370.35" x2="214.40" y2="363.35" /><line x1="230.47" y1="370.35" x2="230.47" y2="366.85" /><line x1="246.54" y1="370.35" x2="246.54" y2="363.35" /><line x1="262.61" y1="370.35" x2="262.61" y2="366.85" /><line x1="278.68" y1="370.35" x2="278.68" y2="363.35" /><line x1="294.75" y1="370.35" x2="294.75" y2="366.85" /><line x1="310.82" y1="370.35" x2="310.82" y2="363.35" /><line x1="326.89" y1="370.35" x2="326.89" y2="366.85" /><line x1="342.96" y1="370.35" x2="342.96" y2="363.35" /><line x1="359.03" y1="370.35" x2="359.03" y2="366.85" /><line x1="375.10" y1="370.35" x2="375.10" y2="363.35" /><line x1="391.17" y1="370.35" x2="391.17" y2="366.85" /><line x1="407.24" y1="370.35" x2="407.24" y2="363.35" /><line x1="423.31" y1="370.35" x2="423.31" y2="366.85" /><line x1="439.38" y1="370.35" x2="439.38" y2="363.35" /><line x1="455.45" y1="370.35" x2="455.45" y2="366.85" /><line x1="471.52" y1="370.35" x2="471.52" y2="363.35" /><line x1="487.59" y1="370.35" x2="487.59" y2="366.85" /><line x1="503.66" y1="370.35" x2="503.66" y2="363.35" /><line x1="519.73" y1="370.35" x2="519.73" y2="366.85" /><line x1="54.0" y1="351.70" x2="61.0" y2="351.70" /><line x1="54.0" y1="333.05" x2="57.5" y2="333.05" /><line x1="54.0" y1="314.40" x2="61.0" y2="314.40" /><line x1="54.0" y1="295.75" x2="57.5" y2="295.75" /><line x1="54.0" y1="277.10" x2="61.0" y2="277.10" /><line x1="54.0" y1="258.45" x2="57.5" y2="258.45" /><line x1="54.0" y1="239.80" x2="61.0" y2="239.80" /><line x1="54.0" y1="221.15" x2="57.5" y2="221.15" /><line x1="54.0" y1="202.50" x2="61.0" y2="202.50" /><line x1="54.0" y1="183.85" x2="57.5" y2="183.85" /><line x1="54.0" y1="165.20" x2="61.0" y2="165.20" /><line x1="54.0" y1="146.55" x2="57.5" y2="146.55" /><line x1="54.0" y1="127.90" x2="61.0" y2="127.90" /><line x1="54.0" y1="109.25" x2="57.5" y2="109.25" /><line x1="54.0" y1="90.60" x2="61.0" y2="90.60" /><line x1="54.0" y1="71.95" x2="57.5" y2="71.95" /><line x1="54.0" y1="53.30" x2="61.0" y2="53.30" /><line x1="54.0" y1="34.65" x2="57.5" y2="34.65" /></g>
<rect x="54.0" y="16.0" width="482.0" height="354.35" fill="none" stroke="#000" stroke-width="2"/>
<g font-family="Liberation Serif, serif" font-weight="bold" font-size="15.4" fill="#000" stroke="#000" stroke-width="0.25"><text x="53.70" y="390.3" text-anchor="middle">0</text><text x="85.84" y="390.3" text-anchor="middle">2</text><text x="117.98" y="390.3" text-anchor="middle">4</text><text x="150.12" y="390.3" text-anchor="middle">6</text><text x="182.26" y="390.3" text-anchor="middle">8</text><text x="214.40" y="390.3" text-anchor="middle">10</text><text x="246.54" y="390.3" text-anchor="middle">12</text><text x="278.68" y="390.3" text-anchor="middle">14</text><text x="310.82" y="390.3" text-anchor="middle">16</text><text x="342.96" y="390.3" text-anchor="middle">18</text><text x="375.10" y="390.3" text-anchor="middle">20</text><text x="407.24" y="390.3" text-anchor="middle">22</text><text x="439.38" y="390.3" text-anchor="middle">24</text><text x="471.52" y="390.3" text-anchor="middle">26</text><text x="503.66" y="390.3" text-anchor="middle">28</text><text x="535.80" y="390.3" text-anchor="middle">30</text><text x="46" y="356.20" text-anchor="end">1.2</text><text x="46" y="318.90" text-anchor="end">1.4</text><text x="46" y="281.60" text-anchor="end">1.6</text><text x="46" y="244.30" text-anchor="end">1.8</text><text x="46" y="207.00" text-anchor="end">2.0</text><text x="46" y="169.70" text-anchor="end">2.2</text><text x="46" y="132.40" text-anchor="end">2.4</text><text x="46" y="95.10" text-anchor="end">2.6</text><text x="46" y="57.80" text-anchor="end">2.8</text><text x="46" y="20.50" text-anchor="end">3.0</text></g>
<g font-family="Liberation Serif, serif" font-weight="bold" font-size="19" fill="#000" stroke="#000" stroke-width="0.3">
<text x="303.5" y="411" text-anchor="middle" font-size="19.25">Mass flow rate (g/s)</text>
<text transform="translate(25.4,201.3) rotate(-90)" text-anchor="middle" font-size="19.2">Compression ratio</text>
<text x="340.6" y="205" font-size="19.4">Solid: Compressor 1</text>
<text x="287.6" y="235.6" font-size="19.3">Short dash dot: Compressor 2</text>
<line x1="383.4" y1="256.6" x2="427" y2="256.6" stroke="#000000" stroke-width="2.4"/><rect x="401.20" y="252.60" width="8.00" height="8.00" fill="#000000" stroke="none"/><text x="431.1" y="263.6" font-size="19.5">450 r/min</text><line x1="244.9" y1="280.3" x2="289" y2="280.3" stroke="#ff0000" stroke-width="2.4"/><circle cx="266.95" cy="280.30" r="4.50" fill="#ff0000" stroke="none"/><text x="292.6" y="287.3" font-size="19.5">750 r/min</text><line x1="380.5" y1="280.3" x2="425.2" y2="280.3" stroke="#00ff00" stroke-width="2.4"/><polygon points="402.85,274.10 408.22,283.40 397.48,283.40" fill="#00ff00" stroke="none"/><text x="428.4" y="287.3" font-size="19.5">1050 r/min</text><line x1="244.9" y1="304.4" x2="289" y2="304.4" stroke="#0000ff" stroke-width="2.4"/><polygon points="266.95,310.60 272.32,301.30 261.58,301.30" fill="#0000ff" stroke="none"/><text x="292.6" y="311.4" font-size="19.5">1350 r/min</text><line x1="385.5" y1="304.4" x2="429.7" y2="304.4" stroke="#00ffff" stroke-width="2.4"/><polygon points="407.60,298.80 413.20,304.40 407.60,310.00 402.00,304.40" fill="#00ffff" stroke="none"/><text x="432.6" y="311.4" font-size="19.5">1650 r/min</text><line x1="244.9" y1="328.3" x2="289" y2="328.3" stroke="#ff00ff" stroke-width="2.4"/><polygon points="260.75,328.30 270.05,322.93 270.05,333.67" fill="#ff00ff" stroke="none"/><text x="292.6" y="335.3" font-size="19.5">1950 r/min</text><line x1="385.5" y1="328.2" x2="429.7" y2="328.2" stroke="#808000" stroke-width="2.4"/><polygon points="407.60,323.10 412.02,325.65 412.02,330.75 407.60,333.30 403.18,330.75 403.18,325.65" fill="#808000" stroke="none"/><text x="432.2" y="335.2" font-size="19.5">2250 r/min</text><line x1="244.9" y1="352.4" x2="289" y2="352.4" stroke="#000080" stroke-width="2.4"/><polygon points="266.95,346.90 268.42,350.38 272.18,350.70 269.33,353.17 270.18,356.85 266.95,354.90 263.72,356.85 264.57,353.17 261.72,350.70 265.48,350.38" fill="#000080" stroke="none"/><text x="292.6" y="359.4" font-size="19.5">2850 r/min</text><line x1="386.6" y1="353.2" x2="430.5" y2="353.2" stroke="#800000" stroke-width="2.4"/><text x="432.8" y="360.2" font-size="19.5">2850 r/min</text>
</g>
</svg></body></html>
